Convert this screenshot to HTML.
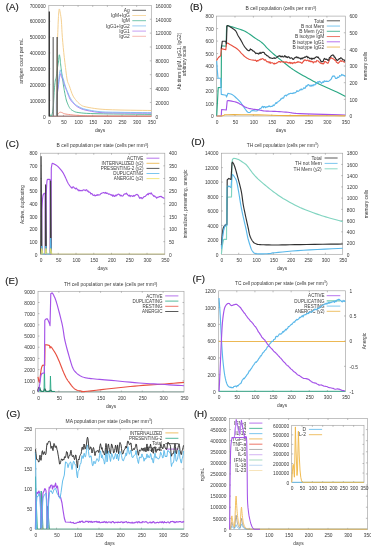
<!DOCTYPE html><html><head><meta charset="utf-8"><style>
html,body{margin:0;padding:0;background:#fff;width:371px;height:550px;overflow:hidden}
svg{display:block;will-change:transform}
text{font-family:"Liberation Sans",sans-serif}
</style></head><body>
<svg width="371" height="550" viewBox="0 0 371 550">
<rect width="371" height="550" fill="#fff"/>
<rect x="48.80" y="5.40" width="102.50" height="110.90" fill="none" stroke="#a0a0a0" stroke-width="0.65"/>
<text x="45.80" y="118.55" font-size="4.85" text-anchor="end" fill="#383838">0</text>
<line x1="48.80" y1="100.46" x2="50.30" y2="100.46" stroke="#888" stroke-width="0.55"/>
<text x="45.80" y="102.71" font-size="4.85" text-anchor="end" fill="#383838">100000</text>
<line x1="48.80" y1="84.61" x2="50.30" y2="84.61" stroke="#888" stroke-width="0.55"/>
<text x="45.80" y="86.86" font-size="4.85" text-anchor="end" fill="#383838">200000</text>
<line x1="48.80" y1="68.77" x2="50.30" y2="68.77" stroke="#888" stroke-width="0.55"/>
<text x="45.80" y="71.02" font-size="4.85" text-anchor="end" fill="#383838">300000</text>
<line x1="48.80" y1="52.93" x2="50.30" y2="52.93" stroke="#888" stroke-width="0.55"/>
<text x="45.80" y="55.18" font-size="4.85" text-anchor="end" fill="#383838">400000</text>
<line x1="48.80" y1="37.09" x2="50.30" y2="37.09" stroke="#888" stroke-width="0.55"/>
<text x="45.80" y="39.34" font-size="4.85" text-anchor="end" fill="#383838">500000</text>
<line x1="48.80" y1="21.24" x2="50.30" y2="21.24" stroke="#888" stroke-width="0.55"/>
<text x="45.80" y="23.49" font-size="4.85" text-anchor="end" fill="#383838">600000</text>
<text x="45.80" y="7.65" font-size="4.85" text-anchor="end" fill="#383838">700000</text>
<text x="155.40" y="118.55" font-size="4.85" text-anchor="start" fill="#383838">0</text>
<line x1="151.30" y1="102.44" x2="149.80" y2="102.44" stroke="#888" stroke-width="0.55"/>
<text x="155.40" y="104.69" font-size="4.85" text-anchor="start" fill="#383838">20000</text>
<line x1="151.30" y1="88.57" x2="149.80" y2="88.57" stroke="#888" stroke-width="0.55"/>
<text x="155.40" y="90.82" font-size="4.85" text-anchor="start" fill="#383838">40000</text>
<line x1="151.30" y1="74.71" x2="149.80" y2="74.71" stroke="#888" stroke-width="0.55"/>
<text x="155.40" y="76.96" font-size="4.85" text-anchor="start" fill="#383838">60000</text>
<line x1="151.30" y1="60.85" x2="149.80" y2="60.85" stroke="#888" stroke-width="0.55"/>
<text x="155.40" y="63.10" font-size="4.85" text-anchor="start" fill="#383838">80000</text>
<line x1="151.30" y1="46.99" x2="149.80" y2="46.99" stroke="#888" stroke-width="0.55"/>
<text x="155.40" y="49.24" font-size="4.85" text-anchor="start" fill="#383838">100000</text>
<line x1="151.30" y1="33.13" x2="149.80" y2="33.13" stroke="#888" stroke-width="0.55"/>
<text x="155.40" y="35.38" font-size="4.85" text-anchor="start" fill="#383838">120000</text>
<line x1="151.30" y1="19.26" x2="149.80" y2="19.26" stroke="#888" stroke-width="0.55"/>
<text x="155.40" y="21.51" font-size="4.85" text-anchor="start" fill="#383838">140000</text>
<text x="155.40" y="7.65" font-size="4.85" text-anchor="start" fill="#383838">160000</text>
<text x="49.30" y="124.10" font-size="4.85" text-anchor="middle" fill="#383838">0</text>
<line x1="63.44" y1="116.30" x2="63.44" y2="114.80" stroke="#888" stroke-width="0.55"/>
<line x1="63.44" y1="5.40" x2="63.44" y2="6.90" stroke="#888" stroke-width="0.55"/>
<text x="63.94" y="124.10" font-size="4.85" text-anchor="middle" fill="#383838">50</text>
<line x1="78.09" y1="116.30" x2="78.09" y2="114.80" stroke="#888" stroke-width="0.55"/>
<line x1="78.09" y1="5.40" x2="78.09" y2="6.90" stroke="#888" stroke-width="0.55"/>
<text x="78.59" y="124.10" font-size="4.85" text-anchor="middle" fill="#383838">100</text>
<line x1="92.73" y1="116.30" x2="92.73" y2="114.80" stroke="#888" stroke-width="0.55"/>
<line x1="92.73" y1="5.40" x2="92.73" y2="6.90" stroke="#888" stroke-width="0.55"/>
<text x="93.23" y="124.10" font-size="4.85" text-anchor="middle" fill="#383838">150</text>
<line x1="107.37" y1="116.30" x2="107.37" y2="114.80" stroke="#888" stroke-width="0.55"/>
<line x1="107.37" y1="5.40" x2="107.37" y2="6.90" stroke="#888" stroke-width="0.55"/>
<text x="107.87" y="124.10" font-size="4.85" text-anchor="middle" fill="#383838">200</text>
<line x1="122.01" y1="116.30" x2="122.01" y2="114.80" stroke="#888" stroke-width="0.55"/>
<line x1="122.01" y1="5.40" x2="122.01" y2="6.90" stroke="#888" stroke-width="0.55"/>
<text x="122.51" y="124.10" font-size="4.85" text-anchor="middle" fill="#383838">250</text>
<line x1="136.66" y1="116.30" x2="136.66" y2="114.80" stroke="#888" stroke-width="0.55"/>
<line x1="136.66" y1="5.40" x2="136.66" y2="6.90" stroke="#888" stroke-width="0.55"/>
<text x="137.16" y="124.10" font-size="4.85" text-anchor="middle" fill="#383838">300</text>
<text x="151.80" y="124.10" font-size="4.85" text-anchor="middle" fill="#383838">350</text>
<text x="100.05" y="131.85" font-size="4.85" text-anchor="middle" fill="#383838">days</text>
<rect x="216.60" y="16.10" width="128.70" height="99.90" fill="none" stroke="#a0a0a0" stroke-width="0.65"/>
<text x="213.60" y="118.25" font-size="4.85" text-anchor="end" fill="#383838">0</text>
<line x1="216.60" y1="103.51" x2="218.10" y2="103.51" stroke="#888" stroke-width="0.55"/>
<text x="213.60" y="105.76" font-size="4.85" text-anchor="end" fill="#383838">100</text>
<line x1="216.60" y1="91.03" x2="218.10" y2="91.03" stroke="#888" stroke-width="0.55"/>
<text x="213.60" y="93.28" font-size="4.85" text-anchor="end" fill="#383838">200</text>
<line x1="216.60" y1="78.54" x2="218.10" y2="78.54" stroke="#888" stroke-width="0.55"/>
<text x="213.60" y="80.79" font-size="4.85" text-anchor="end" fill="#383838">300</text>
<line x1="216.60" y1="66.05" x2="218.10" y2="66.05" stroke="#888" stroke-width="0.55"/>
<text x="213.60" y="68.30" font-size="4.85" text-anchor="end" fill="#383838">400</text>
<line x1="216.60" y1="53.56" x2="218.10" y2="53.56" stroke="#888" stroke-width="0.55"/>
<text x="213.60" y="55.81" font-size="4.85" text-anchor="end" fill="#383838">500</text>
<line x1="216.60" y1="41.08" x2="218.10" y2="41.08" stroke="#888" stroke-width="0.55"/>
<text x="213.60" y="43.33" font-size="4.85" text-anchor="end" fill="#383838">600</text>
<line x1="216.60" y1="28.59" x2="218.10" y2="28.59" stroke="#888" stroke-width="0.55"/>
<text x="213.60" y="30.84" font-size="4.85" text-anchor="end" fill="#383838">700</text>
<text x="213.60" y="18.35" font-size="4.85" text-anchor="end" fill="#383838">800</text>
<text x="349.40" y="118.25" font-size="4.85" text-anchor="start" fill="#383838">0</text>
<line x1="345.30" y1="99.35" x2="343.80" y2="99.35" stroke="#888" stroke-width="0.55"/>
<text x="349.40" y="101.60" font-size="4.85" text-anchor="start" fill="#383838">100</text>
<line x1="345.30" y1="82.70" x2="343.80" y2="82.70" stroke="#888" stroke-width="0.55"/>
<text x="349.40" y="84.95" font-size="4.85" text-anchor="start" fill="#383838">200</text>
<line x1="345.30" y1="66.05" x2="343.80" y2="66.05" stroke="#888" stroke-width="0.55"/>
<text x="349.40" y="68.30" font-size="4.85" text-anchor="start" fill="#383838">300</text>
<line x1="345.30" y1="49.40" x2="343.80" y2="49.40" stroke="#888" stroke-width="0.55"/>
<text x="349.40" y="51.65" font-size="4.85" text-anchor="start" fill="#383838">400</text>
<line x1="345.30" y1="32.75" x2="343.80" y2="32.75" stroke="#888" stroke-width="0.55"/>
<text x="349.40" y="35.00" font-size="4.85" text-anchor="start" fill="#383838">500</text>
<text x="349.40" y="18.35" font-size="4.85" text-anchor="start" fill="#383838">600</text>
<text x="217.10" y="123.80" font-size="4.85" text-anchor="middle" fill="#383838">0</text>
<line x1="234.99" y1="116.00" x2="234.99" y2="114.50" stroke="#888" stroke-width="0.55"/>
<line x1="234.99" y1="16.10" x2="234.99" y2="17.60" stroke="#888" stroke-width="0.55"/>
<text x="235.49" y="123.80" font-size="4.85" text-anchor="middle" fill="#383838">50</text>
<line x1="253.37" y1="116.00" x2="253.37" y2="114.50" stroke="#888" stroke-width="0.55"/>
<line x1="253.37" y1="16.10" x2="253.37" y2="17.60" stroke="#888" stroke-width="0.55"/>
<text x="253.87" y="123.80" font-size="4.85" text-anchor="middle" fill="#383838">100</text>
<line x1="271.76" y1="116.00" x2="271.76" y2="114.50" stroke="#888" stroke-width="0.55"/>
<line x1="271.76" y1="16.10" x2="271.76" y2="17.60" stroke="#888" stroke-width="0.55"/>
<text x="272.26" y="123.80" font-size="4.85" text-anchor="middle" fill="#383838">150</text>
<line x1="290.14" y1="116.00" x2="290.14" y2="114.50" stroke="#888" stroke-width="0.55"/>
<line x1="290.14" y1="16.10" x2="290.14" y2="17.60" stroke="#888" stroke-width="0.55"/>
<text x="290.64" y="123.80" font-size="4.85" text-anchor="middle" fill="#383838">200</text>
<line x1="308.53" y1="116.00" x2="308.53" y2="114.50" stroke="#888" stroke-width="0.55"/>
<line x1="308.53" y1="16.10" x2="308.53" y2="17.60" stroke="#888" stroke-width="0.55"/>
<text x="309.03" y="123.80" font-size="4.85" text-anchor="middle" fill="#383838">250</text>
<line x1="326.91" y1="116.00" x2="326.91" y2="114.50" stroke="#888" stroke-width="0.55"/>
<line x1="326.91" y1="16.10" x2="326.91" y2="17.60" stroke="#888" stroke-width="0.55"/>
<text x="327.41" y="123.80" font-size="4.85" text-anchor="middle" fill="#383838">300</text>
<text x="345.80" y="123.80" font-size="4.85" text-anchor="middle" fill="#383838">350</text>
<text x="280.95" y="131.55" font-size="4.85" text-anchor="middle" fill="#383838">days</text>
<rect x="40.50" y="153.20" width="124.30" height="101.10" fill="none" stroke="#a0a0a0" stroke-width="0.65"/>
<text x="37.50" y="256.55" font-size="4.85" text-anchor="end" fill="#383838">0</text>
<line x1="40.50" y1="241.66" x2="42.00" y2="241.66" stroke="#888" stroke-width="0.55"/>
<text x="37.50" y="243.91" font-size="4.85" text-anchor="end" fill="#383838">100</text>
<line x1="40.50" y1="229.03" x2="42.00" y2="229.03" stroke="#888" stroke-width="0.55"/>
<text x="37.50" y="231.28" font-size="4.85" text-anchor="end" fill="#383838">200</text>
<line x1="40.50" y1="216.39" x2="42.00" y2="216.39" stroke="#888" stroke-width="0.55"/>
<text x="37.50" y="218.64" font-size="4.85" text-anchor="end" fill="#383838">300</text>
<line x1="40.50" y1="203.75" x2="42.00" y2="203.75" stroke="#888" stroke-width="0.55"/>
<text x="37.50" y="206.00" font-size="4.85" text-anchor="end" fill="#383838">400</text>
<line x1="40.50" y1="191.11" x2="42.00" y2="191.11" stroke="#888" stroke-width="0.55"/>
<text x="37.50" y="193.36" font-size="4.85" text-anchor="end" fill="#383838">500</text>
<line x1="40.50" y1="178.47" x2="42.00" y2="178.47" stroke="#888" stroke-width="0.55"/>
<text x="37.50" y="180.72" font-size="4.85" text-anchor="end" fill="#383838">600</text>
<line x1="40.50" y1="165.84" x2="42.00" y2="165.84" stroke="#888" stroke-width="0.55"/>
<text x="37.50" y="168.09" font-size="4.85" text-anchor="end" fill="#383838">700</text>
<text x="37.50" y="155.45" font-size="4.85" text-anchor="end" fill="#383838">800</text>
<text x="168.90" y="256.55" font-size="4.85" text-anchor="start" fill="#383838">0</text>
<line x1="164.80" y1="241.66" x2="163.30" y2="241.66" stroke="#888" stroke-width="0.55"/>
<text x="168.90" y="243.91" font-size="4.85" text-anchor="start" fill="#383838">50</text>
<line x1="164.80" y1="229.03" x2="163.30" y2="229.03" stroke="#888" stroke-width="0.55"/>
<text x="168.90" y="231.28" font-size="4.85" text-anchor="start" fill="#383838">100</text>
<line x1="164.80" y1="216.39" x2="163.30" y2="216.39" stroke="#888" stroke-width="0.55"/>
<text x="168.90" y="218.64" font-size="4.85" text-anchor="start" fill="#383838">150</text>
<line x1="164.80" y1="203.75" x2="163.30" y2="203.75" stroke="#888" stroke-width="0.55"/>
<text x="168.90" y="206.00" font-size="4.85" text-anchor="start" fill="#383838">200</text>
<line x1="164.80" y1="191.11" x2="163.30" y2="191.11" stroke="#888" stroke-width="0.55"/>
<text x="168.90" y="193.36" font-size="4.85" text-anchor="start" fill="#383838">250</text>
<line x1="164.80" y1="178.47" x2="163.30" y2="178.47" stroke="#888" stroke-width="0.55"/>
<text x="168.90" y="180.72" font-size="4.85" text-anchor="start" fill="#383838">300</text>
<line x1="164.80" y1="165.84" x2="163.30" y2="165.84" stroke="#888" stroke-width="0.55"/>
<text x="168.90" y="168.09" font-size="4.85" text-anchor="start" fill="#383838">350</text>
<text x="168.90" y="155.45" font-size="4.85" text-anchor="start" fill="#383838">400</text>
<text x="41.00" y="262.10" font-size="4.85" text-anchor="middle" fill="#383838">0</text>
<line x1="58.26" y1="254.30" x2="58.26" y2="252.80" stroke="#888" stroke-width="0.55"/>
<line x1="58.26" y1="153.20" x2="58.26" y2="154.70" stroke="#888" stroke-width="0.55"/>
<text x="58.76" y="262.10" font-size="4.85" text-anchor="middle" fill="#383838">50</text>
<line x1="76.01" y1="254.30" x2="76.01" y2="252.80" stroke="#888" stroke-width="0.55"/>
<line x1="76.01" y1="153.20" x2="76.01" y2="154.70" stroke="#888" stroke-width="0.55"/>
<text x="76.51" y="262.10" font-size="4.85" text-anchor="middle" fill="#383838">100</text>
<line x1="93.77" y1="254.30" x2="93.77" y2="252.80" stroke="#888" stroke-width="0.55"/>
<line x1="93.77" y1="153.20" x2="93.77" y2="154.70" stroke="#888" stroke-width="0.55"/>
<text x="94.27" y="262.10" font-size="4.85" text-anchor="middle" fill="#383838">150</text>
<line x1="111.53" y1="254.30" x2="111.53" y2="252.80" stroke="#888" stroke-width="0.55"/>
<line x1="111.53" y1="153.20" x2="111.53" y2="154.70" stroke="#888" stroke-width="0.55"/>
<text x="112.03" y="262.10" font-size="4.85" text-anchor="middle" fill="#383838">200</text>
<line x1="129.29" y1="254.30" x2="129.29" y2="252.80" stroke="#888" stroke-width="0.55"/>
<line x1="129.29" y1="153.20" x2="129.29" y2="154.70" stroke="#888" stroke-width="0.55"/>
<text x="129.79" y="262.10" font-size="4.85" text-anchor="middle" fill="#383838">250</text>
<line x1="147.04" y1="254.30" x2="147.04" y2="252.80" stroke="#888" stroke-width="0.55"/>
<line x1="147.04" y1="153.20" x2="147.04" y2="154.70" stroke="#888" stroke-width="0.55"/>
<text x="147.54" y="262.10" font-size="4.85" text-anchor="middle" fill="#383838">300</text>
<text x="165.30" y="262.10" font-size="4.85" text-anchor="middle" fill="#383838">350</text>
<text x="102.65" y="269.85" font-size="4.85" text-anchor="middle" fill="#383838">days</text>
<rect x="221.40" y="153.20" width="121.30" height="101.10" fill="none" stroke="#a0a0a0" stroke-width="0.65"/>
<text x="218.40" y="256.55" font-size="4.85" text-anchor="end" fill="#383838">0</text>
<line x1="221.40" y1="239.86" x2="222.90" y2="239.86" stroke="#888" stroke-width="0.55"/>
<text x="218.40" y="242.11" font-size="4.85" text-anchor="end" fill="#383838">2000</text>
<line x1="221.40" y1="225.41" x2="222.90" y2="225.41" stroke="#888" stroke-width="0.55"/>
<text x="218.40" y="227.66" font-size="4.85" text-anchor="end" fill="#383838">4000</text>
<line x1="221.40" y1="210.97" x2="222.90" y2="210.97" stroke="#888" stroke-width="0.55"/>
<text x="218.40" y="213.22" font-size="4.85" text-anchor="end" fill="#383838">6000</text>
<line x1="221.40" y1="196.53" x2="222.90" y2="196.53" stroke="#888" stroke-width="0.55"/>
<text x="218.40" y="198.78" font-size="4.85" text-anchor="end" fill="#383838">8000</text>
<line x1="221.40" y1="182.09" x2="222.90" y2="182.09" stroke="#888" stroke-width="0.55"/>
<text x="218.40" y="184.34" font-size="4.85" text-anchor="end" fill="#383838">10000</text>
<line x1="221.40" y1="167.64" x2="222.90" y2="167.64" stroke="#888" stroke-width="0.55"/>
<text x="218.40" y="169.89" font-size="4.85" text-anchor="end" fill="#383838">12000</text>
<text x="218.40" y="155.45" font-size="4.85" text-anchor="end" fill="#383838">14000</text>
<text x="346.80" y="256.55" font-size="4.85" text-anchor="start" fill="#383838">0</text>
<line x1="342.70" y1="243.07" x2="341.20" y2="243.07" stroke="#888" stroke-width="0.55"/>
<text x="346.80" y="245.32" font-size="4.85" text-anchor="start" fill="#383838">200</text>
<line x1="342.70" y1="231.83" x2="341.20" y2="231.83" stroke="#888" stroke-width="0.55"/>
<text x="346.80" y="234.08" font-size="4.85" text-anchor="start" fill="#383838">400</text>
<line x1="342.70" y1="220.60" x2="341.20" y2="220.60" stroke="#888" stroke-width="0.55"/>
<text x="346.80" y="222.85" font-size="4.85" text-anchor="start" fill="#383838">600</text>
<line x1="342.70" y1="209.37" x2="341.20" y2="209.37" stroke="#888" stroke-width="0.55"/>
<text x="346.80" y="211.62" font-size="4.85" text-anchor="start" fill="#383838">800</text>
<line x1="342.70" y1="198.13" x2="341.20" y2="198.13" stroke="#888" stroke-width="0.55"/>
<text x="346.80" y="200.38" font-size="4.85" text-anchor="start" fill="#383838">1000</text>
<line x1="342.70" y1="186.90" x2="341.20" y2="186.90" stroke="#888" stroke-width="0.55"/>
<text x="346.80" y="189.15" font-size="4.85" text-anchor="start" fill="#383838">1200</text>
<line x1="342.70" y1="175.67" x2="341.20" y2="175.67" stroke="#888" stroke-width="0.55"/>
<text x="346.80" y="177.92" font-size="4.85" text-anchor="start" fill="#383838">1400</text>
<line x1="342.70" y1="164.43" x2="341.20" y2="164.43" stroke="#888" stroke-width="0.55"/>
<text x="346.80" y="166.68" font-size="4.85" text-anchor="start" fill="#383838">1600</text>
<text x="346.80" y="155.45" font-size="4.85" text-anchor="start" fill="#383838">1800</text>
<text x="221.90" y="262.10" font-size="4.85" text-anchor="middle" fill="#383838">0</text>
<line x1="238.73" y1="254.30" x2="238.73" y2="252.80" stroke="#888" stroke-width="0.55"/>
<line x1="238.73" y1="153.20" x2="238.73" y2="154.70" stroke="#888" stroke-width="0.55"/>
<text x="239.23" y="262.10" font-size="4.85" text-anchor="middle" fill="#383838">50</text>
<line x1="256.06" y1="254.30" x2="256.06" y2="252.80" stroke="#888" stroke-width="0.55"/>
<line x1="256.06" y1="153.20" x2="256.06" y2="154.70" stroke="#888" stroke-width="0.55"/>
<text x="256.56" y="262.10" font-size="4.85" text-anchor="middle" fill="#383838">100</text>
<line x1="273.39" y1="254.30" x2="273.39" y2="252.80" stroke="#888" stroke-width="0.55"/>
<line x1="273.39" y1="153.20" x2="273.39" y2="154.70" stroke="#888" stroke-width="0.55"/>
<text x="273.89" y="262.10" font-size="4.85" text-anchor="middle" fill="#383838">150</text>
<line x1="290.71" y1="254.30" x2="290.71" y2="252.80" stroke="#888" stroke-width="0.55"/>
<line x1="290.71" y1="153.20" x2="290.71" y2="154.70" stroke="#888" stroke-width="0.55"/>
<text x="291.21" y="262.10" font-size="4.85" text-anchor="middle" fill="#383838">200</text>
<line x1="308.04" y1="254.30" x2="308.04" y2="252.80" stroke="#888" stroke-width="0.55"/>
<line x1="308.04" y1="153.20" x2="308.04" y2="154.70" stroke="#888" stroke-width="0.55"/>
<text x="308.54" y="262.10" font-size="4.85" text-anchor="middle" fill="#383838">250</text>
<line x1="325.37" y1="254.30" x2="325.37" y2="252.80" stroke="#888" stroke-width="0.55"/>
<line x1="325.37" y1="153.20" x2="325.37" y2="154.70" stroke="#888" stroke-width="0.55"/>
<text x="325.87" y="262.10" font-size="4.85" text-anchor="middle" fill="#383838">300</text>
<text x="343.20" y="262.10" font-size="4.85" text-anchor="middle" fill="#383838">350</text>
<text x="282.05" y="269.85" font-size="4.85" text-anchor="middle" fill="#383838">days</text>
<rect x="38.00" y="291.30" width="146.00" height="100.70" fill="none" stroke="#a0a0a0" stroke-width="0.65"/>
<text x="35.00" y="394.25" font-size="4.85" text-anchor="end" fill="#383838">0</text>
<line x1="38.00" y1="380.81" x2="39.50" y2="380.81" stroke="#888" stroke-width="0.55"/>
<line x1="184.00" y1="380.81" x2="182.50" y2="380.81" stroke="#888" stroke-width="0.55"/>
<text x="35.00" y="383.06" font-size="4.85" text-anchor="end" fill="#383838">1000</text>
<line x1="38.00" y1="369.62" x2="39.50" y2="369.62" stroke="#888" stroke-width="0.55"/>
<line x1="184.00" y1="369.62" x2="182.50" y2="369.62" stroke="#888" stroke-width="0.55"/>
<text x="35.00" y="371.87" font-size="4.85" text-anchor="end" fill="#383838">2000</text>
<line x1="38.00" y1="358.43" x2="39.50" y2="358.43" stroke="#888" stroke-width="0.55"/>
<line x1="184.00" y1="358.43" x2="182.50" y2="358.43" stroke="#888" stroke-width="0.55"/>
<text x="35.00" y="360.68" font-size="4.85" text-anchor="end" fill="#383838">3000</text>
<line x1="38.00" y1="347.24" x2="39.50" y2="347.24" stroke="#888" stroke-width="0.55"/>
<line x1="184.00" y1="347.24" x2="182.50" y2="347.24" stroke="#888" stroke-width="0.55"/>
<text x="35.00" y="349.49" font-size="4.85" text-anchor="end" fill="#383838">4000</text>
<line x1="38.00" y1="336.06" x2="39.50" y2="336.06" stroke="#888" stroke-width="0.55"/>
<line x1="184.00" y1="336.06" x2="182.50" y2="336.06" stroke="#888" stroke-width="0.55"/>
<text x="35.00" y="338.31" font-size="4.85" text-anchor="end" fill="#383838">5000</text>
<line x1="38.00" y1="324.87" x2="39.50" y2="324.87" stroke="#888" stroke-width="0.55"/>
<line x1="184.00" y1="324.87" x2="182.50" y2="324.87" stroke="#888" stroke-width="0.55"/>
<text x="35.00" y="327.12" font-size="4.85" text-anchor="end" fill="#383838">6000</text>
<line x1="38.00" y1="313.68" x2="39.50" y2="313.68" stroke="#888" stroke-width="0.55"/>
<line x1="184.00" y1="313.68" x2="182.50" y2="313.68" stroke="#888" stroke-width="0.55"/>
<text x="35.00" y="315.93" font-size="4.85" text-anchor="end" fill="#383838">7000</text>
<line x1="38.00" y1="302.49" x2="39.50" y2="302.49" stroke="#888" stroke-width="0.55"/>
<line x1="184.00" y1="302.49" x2="182.50" y2="302.49" stroke="#888" stroke-width="0.55"/>
<text x="35.00" y="304.74" font-size="4.85" text-anchor="end" fill="#383838">8000</text>
<text x="35.00" y="293.55" font-size="4.85" text-anchor="end" fill="#383838">9000</text>
<text x="38.50" y="399.80" font-size="4.85" text-anchor="middle" fill="#383838">0</text>
<line x1="58.86" y1="392.00" x2="58.86" y2="390.50" stroke="#888" stroke-width="0.55"/>
<line x1="58.86" y1="291.30" x2="58.86" y2="292.80" stroke="#888" stroke-width="0.55"/>
<text x="59.36" y="399.80" font-size="4.85" text-anchor="middle" fill="#383838">50</text>
<line x1="79.71" y1="392.00" x2="79.71" y2="390.50" stroke="#888" stroke-width="0.55"/>
<line x1="79.71" y1="291.30" x2="79.71" y2="292.80" stroke="#888" stroke-width="0.55"/>
<text x="80.21" y="399.80" font-size="4.85" text-anchor="middle" fill="#383838">100</text>
<line x1="100.57" y1="392.00" x2="100.57" y2="390.50" stroke="#888" stroke-width="0.55"/>
<line x1="100.57" y1="291.30" x2="100.57" y2="292.80" stroke="#888" stroke-width="0.55"/>
<text x="101.07" y="399.80" font-size="4.85" text-anchor="middle" fill="#383838">150</text>
<line x1="121.43" y1="392.00" x2="121.43" y2="390.50" stroke="#888" stroke-width="0.55"/>
<line x1="121.43" y1="291.30" x2="121.43" y2="292.80" stroke="#888" stroke-width="0.55"/>
<text x="121.93" y="399.80" font-size="4.85" text-anchor="middle" fill="#383838">200</text>
<line x1="142.29" y1="392.00" x2="142.29" y2="390.50" stroke="#888" stroke-width="0.55"/>
<line x1="142.29" y1="291.30" x2="142.29" y2="292.80" stroke="#888" stroke-width="0.55"/>
<text x="142.79" y="399.80" font-size="4.85" text-anchor="middle" fill="#383838">250</text>
<line x1="163.14" y1="392.00" x2="163.14" y2="390.50" stroke="#888" stroke-width="0.55"/>
<line x1="163.14" y1="291.30" x2="163.14" y2="292.80" stroke="#888" stroke-width="0.55"/>
<text x="163.64" y="399.80" font-size="4.85" text-anchor="middle" fill="#383838">300</text>
<text x="184.50" y="399.80" font-size="4.85" text-anchor="middle" fill="#383838">350</text>
<text x="111.00" y="407.55" font-size="4.85" text-anchor="middle" fill="#383838">days</text>
<rect x="218.70" y="290.80" width="126.80" height="100.70" fill="none" stroke="#a0a0a0" stroke-width="0.65"/>
<text x="215.70" y="393.75" font-size="4.85" text-anchor="end" fill="#383838">0</text>
<line x1="218.70" y1="374.72" x2="220.20" y2="374.72" stroke="#888" stroke-width="0.55"/>
<text x="215.70" y="376.97" font-size="4.85" text-anchor="end" fill="#383838">200</text>
<line x1="218.70" y1="357.93" x2="220.20" y2="357.93" stroke="#888" stroke-width="0.55"/>
<text x="215.70" y="360.18" font-size="4.85" text-anchor="end" fill="#383838">400</text>
<line x1="218.70" y1="341.15" x2="220.20" y2="341.15" stroke="#888" stroke-width="0.55"/>
<text x="215.70" y="343.40" font-size="4.85" text-anchor="end" fill="#383838">600</text>
<line x1="218.70" y1="324.37" x2="220.20" y2="324.37" stroke="#888" stroke-width="0.55"/>
<text x="215.70" y="326.62" font-size="4.85" text-anchor="end" fill="#383838">800</text>
<line x1="218.70" y1="307.58" x2="220.20" y2="307.58" stroke="#888" stroke-width="0.55"/>
<text x="215.70" y="309.83" font-size="4.85" text-anchor="end" fill="#383838">1000</text>
<text x="215.70" y="293.05" font-size="4.85" text-anchor="end" fill="#383838">1200</text>
<text x="349.60" y="393.75" font-size="4.85" text-anchor="start" fill="#383838">-1</text>
<line x1="345.50" y1="366.32" x2="344.00" y2="366.32" stroke="#888" stroke-width="0.55"/>
<text x="349.60" y="368.57" font-size="4.85" text-anchor="start" fill="#383838">-0.5</text>
<line x1="345.50" y1="341.15" x2="344.00" y2="341.15" stroke="#888" stroke-width="0.55"/>
<text x="349.60" y="343.40" font-size="4.85" text-anchor="start" fill="#383838">0</text>
<line x1="345.50" y1="315.98" x2="344.00" y2="315.98" stroke="#888" stroke-width="0.55"/>
<text x="349.60" y="318.23" font-size="4.85" text-anchor="start" fill="#383838">0.5</text>
<text x="349.60" y="293.05" font-size="4.85" text-anchor="start" fill="#383838">1</text>
<text x="219.20" y="399.30" font-size="4.85" text-anchor="middle" fill="#383838">0</text>
<line x1="236.81" y1="391.50" x2="236.81" y2="390.00" stroke="#888" stroke-width="0.55"/>
<line x1="236.81" y1="290.80" x2="236.81" y2="292.30" stroke="#888" stroke-width="0.55"/>
<text x="237.31" y="399.30" font-size="4.85" text-anchor="middle" fill="#383838">50</text>
<line x1="254.93" y1="391.50" x2="254.93" y2="390.00" stroke="#888" stroke-width="0.55"/>
<line x1="254.93" y1="290.80" x2="254.93" y2="292.30" stroke="#888" stroke-width="0.55"/>
<text x="255.43" y="399.30" font-size="4.85" text-anchor="middle" fill="#383838">100</text>
<line x1="273.04" y1="391.50" x2="273.04" y2="390.00" stroke="#888" stroke-width="0.55"/>
<line x1="273.04" y1="290.80" x2="273.04" y2="292.30" stroke="#888" stroke-width="0.55"/>
<text x="273.54" y="399.30" font-size="4.85" text-anchor="middle" fill="#383838">150</text>
<line x1="291.16" y1="391.50" x2="291.16" y2="390.00" stroke="#888" stroke-width="0.55"/>
<line x1="291.16" y1="290.80" x2="291.16" y2="292.30" stroke="#888" stroke-width="0.55"/>
<text x="291.66" y="399.30" font-size="4.85" text-anchor="middle" fill="#383838">200</text>
<line x1="309.27" y1="391.50" x2="309.27" y2="390.00" stroke="#888" stroke-width="0.55"/>
<line x1="309.27" y1="290.80" x2="309.27" y2="292.30" stroke="#888" stroke-width="0.55"/>
<text x="309.77" y="399.30" font-size="4.85" text-anchor="middle" fill="#383838">250</text>
<line x1="327.39" y1="391.50" x2="327.39" y2="390.00" stroke="#888" stroke-width="0.55"/>
<line x1="327.39" y1="290.80" x2="327.39" y2="292.30" stroke="#888" stroke-width="0.55"/>
<text x="327.89" y="399.30" font-size="4.85" text-anchor="middle" fill="#383838">300</text>
<text x="346.00" y="399.30" font-size="4.85" text-anchor="middle" fill="#383838">350</text>
<text x="282.10" y="407.05" font-size="4.85" text-anchor="middle" fill="#383838">days</text>
<rect x="35.30" y="428.70" width="148.60" height="100.50" fill="none" stroke="#a0a0a0" stroke-width="0.65"/>
<text x="32.30" y="531.45" font-size="4.85" text-anchor="end" fill="#383838">0</text>
<line x1="35.30" y1="509.10" x2="36.80" y2="509.10" stroke="#888" stroke-width="0.55"/>
<line x1="183.90" y1="509.10" x2="182.40" y2="509.10" stroke="#888" stroke-width="0.55"/>
<text x="32.30" y="511.35" font-size="4.85" text-anchor="end" fill="#383838">50</text>
<line x1="35.30" y1="489.00" x2="36.80" y2="489.00" stroke="#888" stroke-width="0.55"/>
<line x1="183.90" y1="489.00" x2="182.40" y2="489.00" stroke="#888" stroke-width="0.55"/>
<text x="32.30" y="491.25" font-size="4.85" text-anchor="end" fill="#383838">100</text>
<line x1="35.30" y1="468.90" x2="36.80" y2="468.90" stroke="#888" stroke-width="0.55"/>
<line x1="183.90" y1="468.90" x2="182.40" y2="468.90" stroke="#888" stroke-width="0.55"/>
<text x="32.30" y="471.15" font-size="4.85" text-anchor="end" fill="#383838">150</text>
<line x1="35.30" y1="448.80" x2="36.80" y2="448.80" stroke="#888" stroke-width="0.55"/>
<line x1="183.90" y1="448.80" x2="182.40" y2="448.80" stroke="#888" stroke-width="0.55"/>
<text x="32.30" y="451.05" font-size="4.85" text-anchor="end" fill="#383838">200</text>
<text x="32.30" y="430.95" font-size="4.85" text-anchor="end" fill="#383838">250</text>
<text x="35.80" y="537.00" font-size="4.85" text-anchor="middle" fill="#383838">0</text>
<line x1="56.53" y1="529.20" x2="56.53" y2="527.70" stroke="#888" stroke-width="0.55"/>
<line x1="56.53" y1="428.70" x2="56.53" y2="430.20" stroke="#888" stroke-width="0.55"/>
<text x="57.03" y="537.00" font-size="4.85" text-anchor="middle" fill="#383838">50</text>
<line x1="77.76" y1="529.20" x2="77.76" y2="527.70" stroke="#888" stroke-width="0.55"/>
<line x1="77.76" y1="428.70" x2="77.76" y2="430.20" stroke="#888" stroke-width="0.55"/>
<text x="78.26" y="537.00" font-size="4.85" text-anchor="middle" fill="#383838">100</text>
<line x1="98.99" y1="529.20" x2="98.99" y2="527.70" stroke="#888" stroke-width="0.55"/>
<line x1="98.99" y1="428.70" x2="98.99" y2="430.20" stroke="#888" stroke-width="0.55"/>
<text x="99.49" y="537.00" font-size="4.85" text-anchor="middle" fill="#383838">150</text>
<line x1="120.21" y1="529.20" x2="120.21" y2="527.70" stroke="#888" stroke-width="0.55"/>
<line x1="120.21" y1="428.70" x2="120.21" y2="430.20" stroke="#888" stroke-width="0.55"/>
<text x="120.71" y="537.00" font-size="4.85" text-anchor="middle" fill="#383838">200</text>
<line x1="141.44" y1="529.20" x2="141.44" y2="527.70" stroke="#888" stroke-width="0.55"/>
<line x1="141.44" y1="428.70" x2="141.44" y2="430.20" stroke="#888" stroke-width="0.55"/>
<text x="141.94" y="537.00" font-size="4.85" text-anchor="middle" fill="#383838">250</text>
<line x1="162.67" y1="529.20" x2="162.67" y2="527.70" stroke="#888" stroke-width="0.55"/>
<line x1="162.67" y1="428.70" x2="162.67" y2="430.20" stroke="#888" stroke-width="0.55"/>
<text x="163.17" y="537.00" font-size="4.85" text-anchor="middle" fill="#383838">300</text>
<text x="184.40" y="537.00" font-size="4.85" text-anchor="middle" fill="#383838">350</text>
<text x="109.60" y="544.75" font-size="4.85" text-anchor="middle" fill="#383838">days</text>
<rect x="229.50" y="418.50" width="137.90" height="110.90" fill="none" stroke="#a0a0a0" stroke-width="0.65"/>
<text x="226.50" y="531.65" font-size="4.85" text-anchor="end" fill="#383838">0</text>
<line x1="229.50" y1="518.31" x2="231.00" y2="518.31" stroke="#888" stroke-width="0.55"/>
<line x1="367.40" y1="518.31" x2="365.90" y2="518.31" stroke="#888" stroke-width="0.55"/>
<text x="226.50" y="520.56" font-size="4.85" text-anchor="end" fill="#383838">50000</text>
<line x1="229.50" y1="507.22" x2="231.00" y2="507.22" stroke="#888" stroke-width="0.55"/>
<line x1="367.40" y1="507.22" x2="365.90" y2="507.22" stroke="#888" stroke-width="0.55"/>
<text x="226.50" y="509.47" font-size="4.85" text-anchor="end" fill="#383838">100000</text>
<line x1="229.50" y1="496.13" x2="231.00" y2="496.13" stroke="#888" stroke-width="0.55"/>
<line x1="367.40" y1="496.13" x2="365.90" y2="496.13" stroke="#888" stroke-width="0.55"/>
<text x="226.50" y="498.38" font-size="4.85" text-anchor="end" fill="#383838">150000</text>
<line x1="229.50" y1="485.04" x2="231.00" y2="485.04" stroke="#888" stroke-width="0.55"/>
<line x1="367.40" y1="485.04" x2="365.90" y2="485.04" stroke="#888" stroke-width="0.55"/>
<text x="226.50" y="487.29" font-size="4.85" text-anchor="end" fill="#383838">200000</text>
<line x1="229.50" y1="473.95" x2="231.00" y2="473.95" stroke="#888" stroke-width="0.55"/>
<line x1="367.40" y1="473.95" x2="365.90" y2="473.95" stroke="#888" stroke-width="0.55"/>
<text x="226.50" y="476.20" font-size="4.85" text-anchor="end" fill="#383838">250000</text>
<line x1="229.50" y1="462.86" x2="231.00" y2="462.86" stroke="#888" stroke-width="0.55"/>
<line x1="367.40" y1="462.86" x2="365.90" y2="462.86" stroke="#888" stroke-width="0.55"/>
<text x="226.50" y="465.11" font-size="4.85" text-anchor="end" fill="#383838">300000</text>
<line x1="229.50" y1="451.77" x2="231.00" y2="451.77" stroke="#888" stroke-width="0.55"/>
<line x1="367.40" y1="451.77" x2="365.90" y2="451.77" stroke="#888" stroke-width="0.55"/>
<text x="226.50" y="454.02" font-size="4.85" text-anchor="end" fill="#383838">350000</text>
<line x1="229.50" y1="440.68" x2="231.00" y2="440.68" stroke="#888" stroke-width="0.55"/>
<line x1="367.40" y1="440.68" x2="365.90" y2="440.68" stroke="#888" stroke-width="0.55"/>
<text x="226.50" y="442.93" font-size="4.85" text-anchor="end" fill="#383838">400000</text>
<line x1="229.50" y1="429.59" x2="231.00" y2="429.59" stroke="#888" stroke-width="0.55"/>
<line x1="367.40" y1="429.59" x2="365.90" y2="429.59" stroke="#888" stroke-width="0.55"/>
<text x="226.50" y="431.84" font-size="4.85" text-anchor="end" fill="#383838">450000</text>
<text x="226.50" y="420.75" font-size="4.85" text-anchor="end" fill="#383838">500000</text>
<text x="230.00" y="537.20" font-size="4.85" text-anchor="middle" fill="#383838">0</text>
<line x1="249.20" y1="529.40" x2="249.20" y2="527.90" stroke="#888" stroke-width="0.55"/>
<line x1="249.20" y1="418.50" x2="249.20" y2="420.00" stroke="#888" stroke-width="0.55"/>
<text x="249.70" y="537.20" font-size="4.85" text-anchor="middle" fill="#383838">50</text>
<line x1="268.90" y1="529.40" x2="268.90" y2="527.90" stroke="#888" stroke-width="0.55"/>
<line x1="268.90" y1="418.50" x2="268.90" y2="420.00" stroke="#888" stroke-width="0.55"/>
<text x="269.40" y="537.20" font-size="4.85" text-anchor="middle" fill="#383838">100</text>
<line x1="288.60" y1="529.40" x2="288.60" y2="527.90" stroke="#888" stroke-width="0.55"/>
<line x1="288.60" y1="418.50" x2="288.60" y2="420.00" stroke="#888" stroke-width="0.55"/>
<text x="289.10" y="537.20" font-size="4.85" text-anchor="middle" fill="#383838">150</text>
<line x1="308.30" y1="529.40" x2="308.30" y2="527.90" stroke="#888" stroke-width="0.55"/>
<line x1="308.30" y1="418.50" x2="308.30" y2="420.00" stroke="#888" stroke-width="0.55"/>
<text x="308.80" y="537.20" font-size="4.85" text-anchor="middle" fill="#383838">200</text>
<line x1="328.00" y1="529.40" x2="328.00" y2="527.90" stroke="#888" stroke-width="0.55"/>
<line x1="328.00" y1="418.50" x2="328.00" y2="420.00" stroke="#888" stroke-width="0.55"/>
<text x="328.50" y="537.20" font-size="4.85" text-anchor="middle" fill="#383838">250</text>
<line x1="347.70" y1="529.40" x2="347.70" y2="527.90" stroke="#888" stroke-width="0.55"/>
<line x1="347.70" y1="418.50" x2="347.70" y2="420.00" stroke="#888" stroke-width="0.55"/>
<text x="348.20" y="537.20" font-size="4.85" text-anchor="middle" fill="#383838">300</text>
<text x="367.90" y="537.20" font-size="4.85" text-anchor="middle" fill="#383838">350</text>
<text x="298.45" y="544.95" font-size="4.85" text-anchor="middle" fill="#383838">days</text>
<rect x="291.70" y="425.30" width="72.30" height="57.30" fill="none" stroke="#a0a0a0" stroke-width="0.65"/>
<text x="289.20" y="484.85" font-size="4.85" text-anchor="end" fill="#383838">0</text>
<line x1="291.70" y1="473.05" x2="293.20" y2="473.05" stroke="#888" stroke-width="0.55"/>
<line x1="364.00" y1="473.05" x2="362.50" y2="473.05" stroke="#888" stroke-width="0.55"/>
<text x="289.20" y="475.30" font-size="4.85" text-anchor="end" fill="#383838">100000</text>
<line x1="291.70" y1="463.50" x2="293.20" y2="463.50" stroke="#888" stroke-width="0.55"/>
<line x1="364.00" y1="463.50" x2="362.50" y2="463.50" stroke="#888" stroke-width="0.55"/>
<text x="289.20" y="465.75" font-size="4.85" text-anchor="end" fill="#383838">200000</text>
<line x1="291.70" y1="453.95" x2="293.20" y2="453.95" stroke="#888" stroke-width="0.55"/>
<line x1="364.00" y1="453.95" x2="362.50" y2="453.95" stroke="#888" stroke-width="0.55"/>
<text x="289.20" y="456.20" font-size="4.85" text-anchor="end" fill="#383838">300000</text>
<line x1="291.70" y1="444.40" x2="293.20" y2="444.40" stroke="#888" stroke-width="0.55"/>
<line x1="364.00" y1="444.40" x2="362.50" y2="444.40" stroke="#888" stroke-width="0.55"/>
<text x="289.20" y="446.65" font-size="4.85" text-anchor="end" fill="#383838">400000</text>
<line x1="291.70" y1="434.85" x2="293.20" y2="434.85" stroke="#888" stroke-width="0.55"/>
<line x1="364.00" y1="434.85" x2="362.50" y2="434.85" stroke="#888" stroke-width="0.55"/>
<text x="289.20" y="437.10" font-size="4.85" text-anchor="end" fill="#383838">500000</text>
<text x="289.20" y="427.55" font-size="4.85" text-anchor="end" fill="#383838">600000</text>
<text x="292.20" y="490.40" font-size="4.85" text-anchor="middle" fill="#383838">0</text>
<line x1="302.03" y1="482.60" x2="302.03" y2="481.10" stroke="#888" stroke-width="0.55"/>
<line x1="302.03" y1="425.30" x2="302.03" y2="426.80" stroke="#888" stroke-width="0.55"/>
<text x="302.53" y="490.40" font-size="4.85" text-anchor="middle" fill="#383838">50</text>
<line x1="312.36" y1="482.60" x2="312.36" y2="481.10" stroke="#888" stroke-width="0.55"/>
<line x1="312.36" y1="425.30" x2="312.36" y2="426.80" stroke="#888" stroke-width="0.55"/>
<text x="312.86" y="490.40" font-size="4.85" text-anchor="middle" fill="#383838">100</text>
<line x1="322.69" y1="482.60" x2="322.69" y2="481.10" stroke="#888" stroke-width="0.55"/>
<line x1="322.69" y1="425.30" x2="322.69" y2="426.80" stroke="#888" stroke-width="0.55"/>
<text x="323.19" y="490.40" font-size="4.85" text-anchor="middle" fill="#383838">150</text>
<line x1="333.01" y1="482.60" x2="333.01" y2="481.10" stroke="#888" stroke-width="0.55"/>
<line x1="333.01" y1="425.30" x2="333.01" y2="426.80" stroke="#888" stroke-width="0.55"/>
<text x="333.51" y="490.40" font-size="4.85" text-anchor="middle" fill="#383838">200</text>
<line x1="343.34" y1="482.60" x2="343.34" y2="481.10" stroke="#888" stroke-width="0.55"/>
<line x1="343.34" y1="425.30" x2="343.34" y2="426.80" stroke="#888" stroke-width="0.55"/>
<text x="343.84" y="490.40" font-size="4.85" text-anchor="middle" fill="#383838">250</text>
<line x1="353.67" y1="482.60" x2="353.67" y2="481.10" stroke="#888" stroke-width="0.55"/>
<line x1="353.67" y1="425.30" x2="353.67" y2="426.80" stroke="#888" stroke-width="0.55"/>
<text x="354.17" y="490.40" font-size="4.85" text-anchor="middle" fill="#383838">300</text>
<text x="364.50" y="490.40" font-size="4.85" text-anchor="middle" fill="#383838">350</text>
<text x="5.80" y="9.50" font-size="9.70" text-anchor="start" fill="#222" stroke="#222" stroke-width="0.15">(A)</text>
<text x="189.90" y="9.60" font-size="9.70" text-anchor="start" fill="#222" stroke="#222" stroke-width="0.15">(B)</text>
<text x="5.60" y="146.60" font-size="9.70" text-anchor="start" fill="#222" stroke="#222" stroke-width="0.15">(C)</text>
<text x="191.30" y="145.30" font-size="9.70" text-anchor="start" fill="#222" stroke="#222" stroke-width="0.15">(D)</text>
<text x="5.30" y="284.00" font-size="9.70" text-anchor="start" fill="#222" stroke="#222" stroke-width="0.15">(E)</text>
<text x="192.60" y="281.60" font-size="9.70" text-anchor="start" fill="#222" stroke="#222" stroke-width="0.15">(F)</text>
<text x="6.30" y="417.30" font-size="9.70" text-anchor="start" fill="#222" stroke="#222" stroke-width="0.15">(G)</text>
<text x="193.90" y="417.30" font-size="9.70" text-anchor="start" fill="#222" stroke="#222" stroke-width="0.15">(H)</text>
<text x="245.50" y="10.45" font-size="4.96" fill="#383838">B cell population (cells per mm<tspan font-size="3.2" dy="-1.7">3</tspan><tspan dy="1.7">)</tspan></text>
<text x="56.50" y="147.35" font-size="4.98" fill="#383838">B cell population  per state (cells per mm<tspan font-size="3.2" dy="-1.7">3</tspan><tspan dy="1.7">)</tspan></text>
<text x="246.80" y="146.95" font-size="4.79" fill="#383838">TH cell population (cells per mm<tspan font-size="3.2" dy="-1.7">3</tspan><tspan dy="1.7">)</tspan></text>
<text x="64.00" y="286.35" font-size="4.88" fill="#383838">TH cell population per state (cells per mm<tspan font-size="3.2" dy="-1.7">3</tspan><tspan dy="1.7">)</tspan></text>
<text x="235.00" y="284.85" font-size="4.84" fill="#383838">TC cell population per state (cells per mm<tspan font-size="3.2" dy="-1.7">3</tspan><tspan dy="1.7">)</tspan></text>
<text x="65.50" y="422.85" font-size="4.98" fill="#383838">MA population per state (cells per mm<tspan font-size="3.2" dy="-1.7">3</tspan><tspan dy="1.7">)</tspan></text>
<text x="23.25" y="61.00" font-size="4.85" text-anchor="middle" fill="#383838" transform="rotate(-90 23.25 61.00)">antigen count per mL</text>
<text x="181.05" y="61.00" font-size="4.85" text-anchor="middle" fill="#383838" transform="rotate(-90 181.05 61.00)">Ab titers (IgM, IgG1, IgG2)</text>
<text x="186.45" y="61.00" font-size="4.85" text-anchor="middle" fill="#383838" transform="rotate(-90 186.45 61.00)">arbitrary scale</text>
<text x="366.85" y="66.00" font-size="4.85" text-anchor="middle" fill="#383838" transform="rotate(-90 366.85 66.00)">memory cells</text>
<text x="24.15" y="204.50" font-size="4.85" text-anchor="middle" fill="#383838" transform="rotate(-90 24.15 204.50)">Active, duplicating</text>
<text x="186.65" y="204.00" font-size="4.85" text-anchor="middle" fill="#383838" transform="rotate(-90 186.65 204.00)">internalized, presenting, anergic</text>
<text x="367.55" y="204.00" font-size="4.85" text-anchor="middle" fill="#383838" transform="rotate(-90 367.55 204.00)">memory cells</text>
<text x="365.75" y="341.00" font-size="4.85" text-anchor="middle" fill="#383838" transform="rotate(-90 365.75 341.00)">Anergic</text>
<text x="204.35" y="474.60" font-size="4.85" text-anchor="middle" fill="#383838" transform="rotate(-90 204.35 474.60)">ng/mL</text>
<text x="129.70" y="12.05" font-size="4.85" text-anchor="end" fill="#383838">Ag</text>
<line x1="132.30" y1="10.30" x2="146.00" y2="10.30" stroke="#404040" stroke-width="0.80"/>
<text x="129.70" y="17.25" font-size="4.85" text-anchor="end" fill="#383838">IgM+IgG</text>
<line x1="132.30" y1="15.50" x2="146.00" y2="15.50" stroke="#f5d090" stroke-width="0.80"/>
<text x="129.70" y="22.45" font-size="4.85" text-anchor="end" fill="#383838">IgM</text>
<line x1="132.30" y1="20.70" x2="146.00" y2="20.70" stroke="#50b898" stroke-width="0.80"/>
<text x="129.70" y="27.65" font-size="4.85" text-anchor="end" fill="#383838">IgG1+IgG2</text>
<line x1="132.30" y1="25.90" x2="146.00" y2="25.90" stroke="#80c0f0" stroke-width="0.80"/>
<text x="129.70" y="32.85" font-size="4.85" text-anchor="end" fill="#383838">IgG1</text>
<line x1="132.30" y1="31.10" x2="146.00" y2="31.10" stroke="#b888f0" stroke-width="0.80"/>
<text x="129.70" y="38.05" font-size="4.85" text-anchor="end" fill="#383838">IgG2</text>
<line x1="132.30" y1="36.30" x2="146.00" y2="36.30" stroke="#f5a8a0" stroke-width="0.80"/>
<text x="324.30" y="22.55" font-size="4.85" text-anchor="end" fill="#383838">Total</text>
<line x1="326.80" y1="20.80" x2="340.00" y2="20.80" stroke="#303030" stroke-width="0.80"/>
<text x="324.30" y="27.80" font-size="4.85" text-anchor="end" fill="#383838">B not Mem</text>
<line x1="326.80" y1="26.05" x2="340.00" y2="26.05" stroke="#5ab8ea" stroke-width="0.80"/>
<text x="324.30" y="33.05" font-size="4.85" text-anchor="end" fill="#383838">B Mem (y2)</text>
<line x1="326.80" y1="31.30" x2="340.00" y2="31.30" stroke="#2aa884" stroke-width="0.80"/>
<text x="324.30" y="38.30" font-size="4.85" text-anchor="end" fill="#383838">B isotype IgM</text>
<line x1="326.80" y1="36.55" x2="340.00" y2="36.55" stroke="#e85040" stroke-width="0.80"/>
<text x="324.30" y="43.55" font-size="4.85" text-anchor="end" fill="#383838">B isotype IgG1</text>
<line x1="326.80" y1="41.80" x2="340.00" y2="41.80" stroke="#a452e8" stroke-width="0.80"/>
<text x="324.30" y="48.80" font-size="4.85" text-anchor="end" fill="#383838">B isotype IgG2</text>
<line x1="326.80" y1="47.05" x2="340.00" y2="47.05" stroke="#eab040" stroke-width="0.80"/>
<text x="143.40" y="159.95" font-size="4.85" text-anchor="end" fill="#383838" textLength="16.38" lengthAdjust="spacingAndGlyphs">ACTIVE</text>
<line x1="146.50" y1="158.20" x2="159.40" y2="158.20" stroke="#a452e8" stroke-width="0.80"/>
<text x="143.40" y="165.05" font-size="4.85" text-anchor="end" fill="#383838" textLength="41.82" lengthAdjust="spacingAndGlyphs">INTERNALIZED (y2)</text>
<line x1="146.50" y1="163.30" x2="159.40" y2="163.30" stroke="#eab040" stroke-width="0.80"/>
<text x="143.40" y="170.15" font-size="4.85" text-anchor="end" fill="#383838" textLength="42.58" lengthAdjust="spacingAndGlyphs">PRESENTING-2 (y2)</text>
<line x1="146.50" y1="168.40" x2="159.40" y2="168.40" stroke="#303030" stroke-width="0.80"/>
<text x="143.40" y="175.25" font-size="4.85" text-anchor="end" fill="#383838" textLength="30.15" lengthAdjust="spacingAndGlyphs">DUPLICATING</text>
<line x1="146.50" y1="173.50" x2="159.40" y2="173.50" stroke="#5ab8ea" stroke-width="0.80"/>
<text x="143.40" y="180.35" font-size="4.85" text-anchor="end" fill="#383838" textLength="29.73" lengthAdjust="spacingAndGlyphs">ANERGIC (y2)</text>
<line x1="146.50" y1="178.60" x2="159.40" y2="178.60" stroke="#eee060" stroke-width="0.80"/>
<text x="321.70" y="159.75" font-size="4.85" text-anchor="end" fill="#383838">Total</text>
<line x1="324.60" y1="158.00" x2="337.60" y2="158.00" stroke="#303030" stroke-width="0.80"/>
<text x="321.70" y="165.15" font-size="4.85" text-anchor="end" fill="#383838">TH not Mem</text>
<line x1="324.60" y1="163.40" x2="337.60" y2="163.40" stroke="#5ab8ea" stroke-width="0.80"/>
<text x="321.70" y="170.55" font-size="4.85" text-anchor="end" fill="#383838">TH Mem (y2)</text>
<line x1="324.60" y1="168.80" x2="337.60" y2="168.80" stroke="#70d0b8" stroke-width="0.80"/>
<text x="162.60" y="297.65" font-size="4.85" text-anchor="end" fill="#383838" textLength="16.38" lengthAdjust="spacingAndGlyphs">ACTIVE</text>
<line x1="165.20" y1="295.90" x2="178.40" y2="295.90" stroke="#a452e8" stroke-width="0.80"/>
<text x="162.60" y="302.85" font-size="4.85" text-anchor="end" fill="#383838" textLength="30.15" lengthAdjust="spacingAndGlyphs">DUPLICATING</text>
<line x1="165.20" y1="301.10" x2="178.40" y2="301.10" stroke="#2aa884" stroke-width="0.80"/>
<text x="162.60" y="308.05" font-size="4.85" text-anchor="end" fill="#383838" textLength="20.16" lengthAdjust="spacingAndGlyphs">RESTING</text>
<line x1="165.20" y1="306.30" x2="178.40" y2="306.30" stroke="#e85040" stroke-width="0.80"/>
<text x="162.60" y="313.25" font-size="4.85" text-anchor="end" fill="#383838" textLength="20.66" lengthAdjust="spacingAndGlyphs">ANERGIC</text>
<line x1="165.20" y1="311.50" x2="178.40" y2="311.50" stroke="#303030" stroke-width="0.80"/>
<text x="324.50" y="297.45" font-size="4.85" text-anchor="end" fill="#383838" textLength="16.38" lengthAdjust="spacingAndGlyphs">ACTIVE</text>
<line x1="326.70" y1="295.70" x2="340.30" y2="295.70" stroke="#a452e8" stroke-width="0.80"/>
<text x="324.50" y="302.65" font-size="4.85" text-anchor="end" fill="#383838" textLength="30.15" lengthAdjust="spacingAndGlyphs">DUPLICATING</text>
<line x1="326.70" y1="300.90" x2="340.30" y2="300.90" stroke="#2aa884" stroke-width="0.80"/>
<text x="324.50" y="307.85" font-size="4.85" text-anchor="end" fill="#383838" textLength="20.16" lengthAdjust="spacingAndGlyphs">RESTING</text>
<line x1="326.70" y1="306.10" x2="340.30" y2="306.10" stroke="#5ab8ea" stroke-width="0.80"/>
<text x="324.50" y="313.05" font-size="4.85" text-anchor="end" fill="#383838" textLength="29.73" lengthAdjust="spacingAndGlyphs">ANERGIC (y2)</text>
<line x1="326.70" y1="311.30" x2="340.30" y2="311.30" stroke="#eab040" stroke-width="0.80"/>
<text x="162.40" y="434.65" font-size="4.85" text-anchor="end" fill="#383838" textLength="32.76" lengthAdjust="spacingAndGlyphs">INTERNALIZED</text>
<line x1="165.40" y1="432.90" x2="178.40" y2="432.90" stroke="#eab040" stroke-width="0.80"/>
<text x="162.40" y="440.05" font-size="4.85" text-anchor="end" fill="#383838" textLength="33.51" lengthAdjust="spacingAndGlyphs">PRESENTING-2</text>
<line x1="165.40" y1="438.30" x2="178.40" y2="438.30" stroke="#2aa884" stroke-width="0.80"/>
<text x="162.40" y="445.45" font-size="4.85" text-anchor="end" fill="#383838">Total</text>
<line x1="165.40" y1="443.70" x2="178.40" y2="443.70" stroke="#303030" stroke-width="0.80"/>
<text x="162.40" y="450.85" font-size="4.85" text-anchor="end" fill="#383838" textLength="16.38" lengthAdjust="spacingAndGlyphs">ACTIVE</text>
<line x1="165.40" y1="449.10" x2="178.40" y2="449.10" stroke="#a452e8" stroke-width="0.80"/>
<text x="246.20" y="424.85" font-size="4.85" text-anchor="end" fill="#383838">IFN-g</text>
<line x1="249.20" y1="423.10" x2="262.40" y2="423.10" stroke="#a452e8" stroke-width="0.80"/>
<text x="246.20" y="430.12" font-size="4.85" text-anchor="end" fill="#383838">IL-4</text>
<line x1="249.20" y1="428.37" x2="262.40" y2="428.37" stroke="#2aa884" stroke-width="0.80"/>
<text x="246.20" y="435.39" font-size="4.85" text-anchor="end" fill="#383838">IL-12</text>
<line x1="249.20" y1="433.64" x2="262.40" y2="433.64" stroke="#5ab8ea" stroke-width="0.80"/>
<text x="246.20" y="440.66" font-size="4.85" text-anchor="end" fill="#383838">TGF-b</text>
<line x1="249.20" y1="438.91" x2="262.40" y2="438.91" stroke="#eab040" stroke-width="0.80"/>
<text x="246.20" y="445.93" font-size="4.85" text-anchor="end" fill="#383838">TNF-a</text>
<line x1="249.20" y1="444.18" x2="262.40" y2="444.18" stroke="#e85040" stroke-width="0.80"/>
<text x="246.20" y="451.20" font-size="4.85" text-anchor="end" fill="#383838">IL-10</text>
<line x1="249.20" y1="449.45" x2="262.40" y2="449.45" stroke="#a0a0a0" stroke-width="0.80"/>
<text x="246.20" y="456.47" font-size="4.85" text-anchor="end" fill="#383838">IL-6</text>
<line x1="249.20" y1="454.72" x2="262.40" y2="454.72" stroke="#c8a0f0" stroke-width="0.80"/>
<text x="246.20" y="461.74" font-size="4.85" text-anchor="end" fill="#383838">IFN-b</text>
<line x1="249.20" y1="459.99" x2="262.40" y2="459.99" stroke="#90d0b0" stroke-width="0.80"/>
<text x="246.20" y="467.01" font-size="4.85" text-anchor="end" fill="#383838">IL-18</text>
<line x1="249.20" y1="465.26" x2="262.40" y2="465.26" stroke="#a8ccf0" stroke-width="0.80"/>
<text x="246.20" y="472.28" font-size="4.85" text-anchor="end" fill="#383838">IL-23</text>
<line x1="249.20" y1="470.53" x2="262.40" y2="470.53" stroke="#f5dca8" stroke-width="0.80"/>
<text x="305.90" y="431.15" font-size="4.85" text-anchor="end" fill="#383838">D</text>
<line x1="308.90" y1="429.40" x2="322.10" y2="429.40" stroke="#5ab8ea" stroke-width="0.80"/>
<text x="305.90" y="436.45" font-size="4.85" text-anchor="end" fill="#383838">IL-2</text>
<line x1="308.90" y1="434.70" x2="322.10" y2="434.70" stroke="#eab040" stroke-width="0.80"/>
<line x1="49.00" y1="116.10" x2="151.30" y2="116.10" stroke="#906060" stroke-width="0.90"/>
<polyline points="56.80,116.20 56.91,115.98 57.06,115.68 57.24,115.32 57.44,114.93 57.66,114.52 57.88,114.13 58.09,113.78 58.30,113.50 58.50,113.27 58.70,113.06 58.91,112.87 59.12,112.71 59.33,112.57 59.55,112.46 59.77,112.37 60.00,112.30 60.22,112.26 60.43,112.24 60.64,112.25 60.86,112.28 61.09,112.33 61.35,112.41 61.65,112.49 62.00,112.60 62.34,112.73 62.62,112.89 62.91,113.08 63.25,113.28 63.68,113.49 64.25,113.70 65.01,113.91 66.00,114.10 67.23,114.29 68.66,114.48 70.25,114.67 72.00,114.86 73.87,115.05 75.84,115.22 77.89,115.37 80.00,115.50 82.00,115.61 83.84,115.70 85.69,115.77 87.67,115.82 89.94,115.87 92.66,115.92 95.96,115.96 100.00,116.00 105.27,116.04 111.83,116.08 119.20,116.11 126.90,116.13 134.44,116.15 141.35,116.17 147.13,116.19 151.30,116.20" fill="none" stroke="#f08878" stroke-width="0.90" stroke-linejoin="round" stroke-opacity="1"/>
<polyline points="49.50,116.20 49.58,116.02 49.69,115.75 49.83,115.44 49.97,115.14 50.13,114.91 50.30,114.80 50.47,114.93 50.65,115.28 50.84,115.70 51.05,116.03 51.27,116.11 51.50,115.80 51.76,115.13 52.05,114.23 52.36,113.09 52.66,111.68 52.95,109.99 53.20,108.00 53.42,105.50 53.61,102.46 53.79,99.14 53.96,95.79 54.12,92.66 54.30,90.00 54.49,87.78 54.68,85.80 54.87,84.03 55.06,82.48 55.23,81.14 55.40,80.00 55.55,79.22 55.68,78.83 55.80,78.66 55.92,78.50 56.05,78.18 56.20,77.50 56.37,76.41 56.54,75.06 56.73,73.53 56.92,71.94 57.11,70.40 57.30,69.00 57.49,67.75 57.68,66.56 57.87,65.41 58.05,64.29 58.23,63.16 58.40,62.00 58.56,60.70 58.71,59.26 58.85,57.82 58.98,56.51 59.12,55.49 59.25,54.90 59.38,54.78 59.51,55.03 59.63,55.57 59.76,56.30 59.88,57.14 60.00,58.00 60.12,58.94 60.23,60.03 60.33,61.23 60.45,62.49 60.57,63.76 60.70,65.00 60.85,66.22 61.01,67.46 61.18,68.72 61.36,69.98 61.53,71.24 61.70,72.50 61.87,73.78 62.04,75.09 62.22,76.41 62.39,77.69 62.55,78.89 62.70,80.00 62.83,80.95 62.94,81.78 63.04,82.53 63.14,83.28 63.26,84.08 63.40,85.00 63.57,86.04 63.74,87.15 63.94,88.31 64.14,89.52 64.37,90.75 64.60,92.00 64.85,93.30 65.11,94.69 65.39,96.09 65.69,97.48 65.99,98.80 66.30,100.00 66.63,101.09 66.99,102.12 67.36,103.08 67.72,103.96 68.07,104.77 68.40,105.50 68.69,106.13 68.94,106.66 69.18,107.11 69.42,107.51 69.69,107.90 70.00,108.30 70.33,108.70 70.65,109.09 71.00,109.45 71.40,109.80 71.89,110.15 72.50,110.50 73.11,110.85 73.68,111.21 74.34,111.56 75.21,111.90 76.42,112.22 78.10,112.50 79.94,112.75 81.77,112.98 83.94,113.18 86.81,113.37 90.71,113.54 96.00,113.70 103.69,113.85 113.71,114.00 124.77,114.13 135.58,114.24 144.85,114.33 151.30,114.40" fill="none" stroke="#48b490" stroke-width="0.90" stroke-linejoin="round" stroke-opacity="1"/>
<polyline points="56.60,116.00 56.59,114.22 56.57,111.74 56.55,108.81 56.55,105.70 56.60,102.68 56.70,100.00 56.88,97.66 57.11,95.44 57.39,93.31 57.70,91.21 58.00,89.13 58.30,87.00 58.59,84.66 58.90,82.11 59.21,79.56 59.52,77.23 59.82,75.33 60.10,74.10 60.35,73.66 60.59,73.87 60.81,74.52 61.03,75.40 61.26,76.30 61.50,77.00 61.75,77.53 62.01,78.05 62.28,78.59 62.55,79.16 62.83,79.79 63.10,80.50 63.37,81.30 63.64,82.19 63.91,83.12 64.19,84.09 64.49,85.06 64.80,86.00 65.13,86.89 65.47,87.76 65.82,88.62 66.19,89.52 66.58,90.47 67.00,91.50 67.44,92.66 67.90,93.94 68.39,95.28 68.90,96.61 69.43,97.87 70.00,99.00 70.61,100.00 71.26,100.92 71.93,101.77 72.62,102.56 73.32,103.30 74.00,104.00 74.65,104.64 75.26,105.21 75.87,105.74 76.52,106.23 77.25,106.71 78.10,107.20 78.99,107.69 79.89,108.17 80.87,108.64 82.00,109.10 83.35,109.56 85.00,110.00 86.97,110.46 89.21,110.93 91.68,111.39 94.33,111.83 97.12,112.20 100.00,112.50 102.91,112.70 105.88,112.83 108.98,112.89 112.31,112.93 115.95,112.96 120.00,113.00 124.93,113.05 130.76,113.10 136.90,113.13 142.77,113.16 147.76,113.18 151.30,113.20" fill="none" stroke="#ac70ec" stroke-width="0.90" stroke-linejoin="round" stroke-opacity="1"/>
<polyline points="56.40,116.00 56.39,114.13 56.36,111.52 56.34,108.44 56.34,105.15 56.38,101.91 56.50,99.00 56.70,96.37 56.97,93.80 57.29,91.29 57.64,88.83 57.98,86.40 58.30,84.00 58.60,81.44 58.91,78.69 59.22,75.98 59.53,73.53 59.82,71.56 60.10,70.30 60.35,69.88 60.57,70.16 60.78,70.92 61.00,71.95 61.23,73.05 61.50,74.00 61.82,74.88 62.17,75.87 62.55,76.92 62.93,77.99 63.28,79.03 63.60,80.00 63.87,80.89 64.10,81.72 64.31,82.53 64.51,83.33 64.74,84.15 65.00,85.00 65.29,85.87 65.59,86.74 65.90,87.63 66.24,88.54 66.60,89.50 67.00,90.50 67.43,91.58 67.89,92.74 68.38,93.94 68.89,95.14 69.43,96.30 70.00,97.40 70.61,98.45 71.26,99.48 71.93,100.48 72.62,101.43 73.32,102.31 74.00,103.10 74.65,103.78 75.26,104.36 75.87,104.87 76.52,105.35 77.25,105.81 78.10,106.30 78.99,106.81 79.89,107.30 80.87,107.79 82.00,108.27 83.35,108.74 85.00,109.20 86.97,109.66 89.21,110.13 91.68,110.59 94.33,111.02 97.12,111.40 100.00,111.70 102.91,111.91 105.88,112.05 108.98,112.13 112.31,112.19 115.95,112.23 120.00,112.30 124.93,112.38 130.76,112.46 136.90,112.54 142.77,112.60 147.76,112.66 151.30,112.70" fill="none" stroke="#78b8f0" stroke-width="0.90" stroke-linejoin="round" stroke-opacity="1"/>
<polyline points="57.00,116.20 57.01,110.87 57.03,103.25 57.04,94.35 57.06,85.17 57.08,76.72 57.10,70.00 57.11,65.09 57.12,61.21 57.13,58.05 57.14,55.33 57.16,52.74 57.20,50.00 57.26,47.21 57.33,44.63 57.42,42.19 57.51,39.81 57.61,37.44 57.70,35.00 57.80,32.42 57.90,29.74 58.00,27.06 58.10,24.48 58.20,22.09 58.30,20.00 58.39,18.20 58.47,16.63 58.56,15.25 58.64,14.04 58.72,12.96 58.80,12.00 58.88,11.15 58.96,10.44 59.04,9.88 59.13,9.44 59.21,9.15 59.30,9.00 59.38,8.96 59.46,9.04 59.54,9.25 59.64,9.63 59.75,10.20 59.90,11.00 60.09,12.03 60.33,13.26 60.58,14.69 60.84,16.30 61.09,18.07 61.30,20.00 61.47,22.15 61.62,24.56 61.76,27.12 61.89,29.78 62.03,32.43 62.20,35.00 62.39,37.50 62.59,40.00 62.80,42.50 63.02,45.00 63.26,47.50 63.50,50.00 63.76,52.50 64.03,55.00 64.31,57.50 64.60,60.00 64.89,62.50 65.20,65.00 65.52,67.61 65.84,70.35 66.18,73.09 66.52,75.70 66.86,78.05 67.20,80.00 67.52,81.42 67.81,82.39 68.11,83.09 68.43,83.72 68.79,84.46 69.20,85.50 69.68,86.90 70.23,88.53 70.81,90.26 71.41,92.00 72.01,93.61 72.60,95.00 73.17,96.14 73.74,97.13 74.31,97.99 74.89,98.79 75.49,99.54 76.10,100.30 76.73,101.06 77.36,101.79 78.01,102.48 78.68,103.13 79.38,103.74 80.10,104.30 80.75,104.79 81.29,105.22 81.86,105.60 82.59,105.96 83.59,106.32 85.00,106.70 86.86,107.12 89.07,107.56 91.56,107.99 94.26,108.41 97.09,108.79 100.00,109.10 102.91,109.34 105.88,109.53 108.98,109.67 112.31,109.79 115.95,109.89 120.00,110.00 124.93,110.11 130.76,110.21 136.90,110.31 142.77,110.39 147.76,110.45 151.30,110.50" fill="none" stroke="#f5d090" stroke-width="1.00" stroke-linejoin="round" stroke-opacity="1"/>
<line x1="49.30" y1="116.30" x2="49.30" y2="11.40" stroke="#303030" stroke-width="1.30"/>
<line x1="53.20" y1="116.30" x2="53.20" y2="37.00" stroke="#787878" stroke-width="1.30"/>
<line x1="57.15" y1="116.30" x2="57.15" y2="37.00" stroke="#505050" stroke-width="1.30"/>
<polyline points="216.70,116.00 218.20,87.60 221.20,87.40 221.45,45.80 226.10,46.30 226.60,26.50 227.70,25.50 228.46,25.74 229.49,26.05 230.72,26.43 232.10,26.86 233.54,27.32 235.00,27.80 236.51,28.28 238.13,28.76 239.83,29.27 241.57,29.85 243.30,30.52 245.00,31.30 246.70,32.25 248.44,33.37 250.19,34.58 251.89,35.80 253.51,36.96 255.00,38.00 256.35,38.88 257.59,39.66 258.75,40.38 259.85,41.10 260.93,41.85 262.00,42.70 263.05,43.65 264.04,44.65 265.00,45.70 265.96,46.77 266.95,47.84 268.00,48.90 269.05,49.90 270.07,50.86 271.12,51.82 272.26,52.84 273.53,53.95 275.00,55.20 276.76,56.68 278.78,58.36 280.94,60.13 283.11,61.90 285.17,63.56 287.00,65.00 288.54,66.20 289.89,67.23 291.12,68.15 292.33,69.01 293.60,69.88 295.00,70.80 296.55,71.77 298.19,72.75 299.88,73.72 301.59,74.70 303.31,75.66 305.00,76.60 306.67,77.53 308.33,78.45 310.00,79.36 311.67,80.26 313.33,81.14 315.00,82.00 316.67,82.84 318.33,83.66 320.00,84.46 321.67,85.25 323.33,86.03 325.00,86.80 326.66,87.55 328.32,88.27 329.98,88.97 331.64,89.69 333.32,90.42 335.00,91.20 336.82,92.08 338.79,93.07 340.77,94.08 342.62,95.02 344.18,95.83 345.30,96.40" fill="none" stroke="#2aa884" stroke-width="1.15" stroke-linejoin="round" stroke-opacity="1"/>
<polyline points="216.70,61.00 216.85,63.36 217.07,66.73 217.30,70.00 217.55,73.10 217.81,76.10 218.00,78.20 220.70,78.20 221.30,94.40 226.00,95.20 226.50,97.00 228.00,93.30 228.72,93.47 229.75,93.70 230.91,94.03 232.00,94.50 233.00,95.14 234.00,95.92 235.00,96.80 236.00,97.70 237.02,98.64 238.06,99.64 239.07,100.67 240.00,101.70 240.82,102.71 241.56,103.72 242.27,104.75 243.00,105.80 243.77,106.93 244.56,108.12 245.32,109.25 246.00,110.20 246.57,110.94 247.06,111.53 247.52,111.98 248.00,112.30 248.50,112.49 249.00,112.54 249.50,112.47 250.00,112.30 250.45,111.95 250.88,111.42 251.36,110.92 252.00,110.60 252.91,110.58 254.00,110.74 255.09,110.93 256.00,111.00 256.69,110.89 257.25,110.67 257.69,110.45 258.00,110.30 258.50,109.55 259.20,109.51 259.90,108.64 260.60,108.48 261.30,108.02 262.00,106.66 262.70,106.34 263.40,107.66 264.10,106.67 264.80,106.57 265.50,107.77 266.20,106.76 266.90,107.27 267.60,106.54 268.30,106.71 269.00,105.76 269.70,106.48 270.40,106.78 271.10,106.15 271.80,106.50 272.50,106.27 273.20,104.96 273.90,105.68 274.60,104.82 275.30,103.69 276.00,102.60 276.70,103.38 277.40,102.05 278.10,101.79 278.80,101.40 279.50,100.49 280.20,100.26 280.90,98.83 281.60,99.01 282.30,97.93 283.00,98.30 283.70,97.74 284.40,95.95 285.10,95.53 285.80,95.19 286.50,96.01 287.20,94.70 287.90,94.66 288.60,93.81 289.30,93.92 290.00,93.49 290.70,93.23 291.40,93.44 292.10,93.23 292.80,93.55 293.50,92.93 294.20,93.09 294.90,92.69 295.60,92.64 296.30,91.80 297.00,90.63 297.70,91.45 298.40,91.22 299.10,90.71 299.80,89.80 300.50,89.83 301.20,88.89 301.90,89.89 302.60,89.35 303.30,88.58 304.00,87.67 304.70,88.35 305.40,87.98 306.10,85.77 306.80,86.35 307.50,85.24 308.20,84.58 308.90,84.85 309.60,85.81 310.30,86.19 311.00,84.98 311.70,86.09 312.40,85.05 313.10,85.81 313.80,84.55 314.50,85.00 315.20,84.65 315.90,83.34 316.60,83.74 317.30,82.26 318.00,81.66 318.70,82.41 319.40,81.39 320.10,81.71 320.80,82.49 321.50,83.37 322.20,82.52 322.90,81.75 323.60,82.42 324.30,80.77 325.00,81.38 325.70,81.40 326.40,81.11 327.10,81.42 327.80,81.38 328.50,81.33 329.20,80.87 329.90,80.29 330.60,79.59 331.30,79.07 332.00,77.21 332.70,76.14 333.40,76.26 334.10,75.81 334.80,76.62 335.50,78.40 336.20,78.31 336.90,78.40 337.60,77.17 338.30,77.38 339.00,77.12 339.70,75.61 340.40,76.09 341.10,75.65 341.80,74.33 342.50,75.17 343.20,75.01 343.90,75.67 344.60,75.53 345.30,76.55" fill="none" stroke="#5ab8ea" stroke-width="1.15" stroke-linejoin="round" stroke-opacity="1"/>
<polyline points="216.60,116.00 221.30,116.00 221.60,109.50 226.30,110.00 227.20,101.00 228.00,100.50 228.91,100.66 230.19,100.88 231.69,101.14 233.26,101.44 234.75,101.76 236.00,102.10 237.01,102.46 237.89,102.86 238.69,103.28 239.44,103.71 240.20,104.16 241.00,104.60 241.82,105.06 242.63,105.56 243.44,106.06 244.26,106.54 245.11,107.00 246.00,107.40 246.94,107.75 247.93,108.05 248.94,108.33 249.96,108.57 250.99,108.79 252.00,109.00 252.99,109.18 253.96,109.31 254.94,109.42 255.93,109.53 256.94,109.65 258.00,109.80 259.07,109.99 260.15,110.20 261.25,110.42 262.41,110.64 263.65,110.84 265.00,111.00 266.46,111.11 268.00,111.17 269.62,111.22 271.33,111.26 273.12,111.31 275.00,111.40 277.00,111.52 279.15,111.65 281.38,111.79 283.63,111.95 285.86,112.12 288.00,112.30 289.67,112.49 290.84,112.70 291.98,112.92 293.57,113.14 296.08,113.37 300.00,113.60 306.15,113.84 314.31,114.11 323.40,114.38 332.32,114.63 339.99,114.85 345.30,115.00" fill="none" stroke="#a452e8" stroke-width="1.15" stroke-linejoin="round" stroke-opacity="1"/>
<polyline points="216.60,116.00 217.42,116.02 218.61,116.04 219.90,116.05 221.00,116.00 221.83,115.87 222.53,115.69 223.21,115.48 224.00,115.30 224.32,115.12 224.31,114.94 225.15,114.79 228.00,114.70 233.67,114.68 241.38,114.72 249.89,114.80 258.00,114.90 264.86,115.05 271.29,115.25 278.58,115.45 288.00,115.60 301.75,115.69 318.52,115.74 334.36,115.78 345.30,115.80" fill="none" stroke="#eab040" stroke-width="1.15" stroke-linejoin="round" stroke-opacity="1"/>
<polyline points="216.60,60.50 216.93,59.93 217.41,59.11 217.96,58.23 218.50,57.50 219.08,56.94 219.72,56.46 220.30,56.07 220.70,55.80 221.30,48.60 225.80,49.80 226.60,43.30 227.50,43.00 228.46,43.57 229.84,44.38 231.41,45.31 232.94,46.23 234.20,47.00 235.14,47.58 235.92,48.06 236.60,48.50 237.27,48.99 238.00,49.60 238.79,50.36 239.59,51.23 240.39,52.15 241.20,53.06 242.00,53.90 242.80,54.69 243.60,55.47 244.40,56.21 245.20,56.89 246.00,57.50 246.78,58.02 247.55,58.47 248.33,58.86 249.14,59.20 250.00,59.50 251.02,59.76 252.17,59.98 253.31,60.16 254.30,60.30 255.00,60.40 255.20,60.13 255.90,60.48 256.60,61.45 257.30,60.47 258.00,60.94 258.70,60.37 259.40,59.59 260.10,59.97 260.80,58.97 261.50,59.36 262.20,58.67 262.90,58.70 263.60,59.37 264.30,60.26 265.00,59.55 265.70,60.10 266.40,61.11 267.10,61.93 267.80,61.67 268.50,61.70 269.20,62.90 269.90,61.79 270.60,63.33 271.30,62.74 272.00,62.76 272.70,62.92 273.40,63.37 274.10,64.19 274.80,63.14 275.50,63.61 276.20,63.45 276.90,62.76 277.60,62.74 278.30,61.74 279.00,61.52 279.70,61.60 280.40,62.24 281.10,61.81 281.80,61.62 282.50,62.04 283.20,61.86 283.90,61.66 284.60,62.45 285.30,62.36 286.00,61.72 286.70,62.29 287.40,62.29 288.10,62.93 288.80,62.85 289.50,62.33 290.20,63.55 290.90,62.39 291.60,62.97 292.30,63.57 293.00,62.67 293.70,63.10 294.40,62.24 295.10,62.98 295.80,62.85 296.50,62.29 297.20,62.53 297.90,61.53 298.60,62.12 299.30,62.11 300.00,62.32 300.70,62.36 301.40,63.07 302.10,63.14 302.80,61.99 303.50,61.58 304.20,59.91 304.90,60.33 305.60,60.02 306.30,60.62 307.00,60.59 307.70,60.08 308.40,60.60 309.10,61.38 309.80,60.70 310.50,61.61 311.20,61.42 311.90,61.58 312.60,61.69 313.30,62.90 314.00,61.93 314.70,61.91 315.40,61.75 316.10,62.03 316.80,60.41 317.50,60.74 318.20,60.94 318.90,61.83 319.60,62.34 320.30,63.10 321.00,62.87 321.70,63.56 322.40,63.57 323.10,64.01 323.80,63.49 324.50,61.67 325.20,61.52 325.90,61.91 326.60,62.43 327.30,63.19 328.00,63.24 328.70,61.79 329.40,59.90 330.10,58.97 330.80,57.79 331.50,57.75 332.20,58.54 332.90,58.68 333.60,59.02 334.30,59.71 335.00,60.45 335.70,60.20 336.40,62.19 337.10,62.61 337.80,63.19 338.50,63.15 339.20,62.13 339.90,61.51 340.60,60.65 341.30,61.45 342.00,60.78 342.70,61.08 343.40,61.64 344.10,61.95 344.80,62.60" fill="none" stroke="#e85040" stroke-width="1.15" stroke-linejoin="round" stroke-opacity="1"/>
<polyline points="221.30,48.60 222.30,41.20 225.80,41.20 226.40,44.00 227.00,25.80 227.70,25.50 228.76,26.13 230.30,27.01 232.04,28.05 233.70,29.15 235.00,30.20 235.88,31.23 236.51,32.30 237.01,33.38 237.47,34.46 238.00,35.50 238.60,36.50 239.20,37.46 239.80,38.42 240.40,39.39 241.00,40.40 241.59,41.47 242.18,42.58 242.76,43.70 243.37,44.78 244.00,45.80 244.69,46.79 245.44,47.78 246.18,48.71 246.89,49.50 247.50,50.10 248.03,50.45 248.50,50.60 248.92,50.62 249.25,50.59 249.50,50.60 249.60,50.53 250.30,48.86 251.00,49.61 251.70,49.56 252.40,50.35 253.10,51.11 253.80,51.00 254.50,51.97 255.20,52.67 255.90,53.65 256.60,53.14 257.30,53.62 258.00,53.18 258.70,54.06 259.40,53.62 260.10,52.36 260.80,53.42 261.50,52.94 262.20,52.22 262.90,52.35 263.60,52.21 264.30,52.73 265.00,54.24 265.70,54.31 266.40,55.22 267.10,55.76 267.80,55.81 268.50,56.82 269.20,57.10 269.90,58.02 270.60,57.80 271.30,58.23 272.00,58.20 272.70,58.53 273.40,58.13 274.10,57.63 274.80,58.51 275.50,58.32 276.20,57.84 276.90,57.38 277.60,56.54 278.30,56.19 279.00,56.12 279.70,55.68 280.40,56.69 281.10,56.11 281.80,56.79 282.50,56.11 283.20,57.02 283.90,56.91 284.60,55.68 285.30,56.09 286.00,57.26 286.70,56.70 287.40,57.63 288.10,56.94 288.80,56.69 289.50,57.83 290.20,58.35 290.90,57.86 291.60,57.85 292.30,58.43 293.00,59.51 293.70,59.13 294.40,57.93 295.10,57.76 295.80,57.15 296.50,56.80 297.20,57.87 297.90,57.09 298.60,57.98 299.30,58.17 300.00,58.10 300.70,59.13 301.40,58.21 302.10,58.86 302.80,57.85 303.50,58.04 304.20,57.40 304.90,57.11 305.60,57.17 306.30,56.29 307.00,56.27 307.70,57.80 308.40,57.15 309.10,57.75 309.80,58.74 310.50,58.66 311.20,58.04 311.90,59.53 312.60,58.36 313.30,58.29 314.00,58.84 314.70,57.92 315.40,57.65 316.10,56.96 316.80,56.68 317.50,57.38 318.20,57.15 318.90,58.37 319.60,58.91 320.30,59.97 321.00,61.58 321.70,61.45 322.40,61.65 323.10,61.49 323.80,59.41 324.50,58.42 325.20,59.22 325.90,59.40 326.60,59.16 327.30,59.59 328.00,60.47 328.70,60.00 329.40,57.58 330.10,57.36 330.80,56.26 331.50,55.45 332.20,55.17 332.90,54.95 333.60,55.30 334.30,57.29 335.00,57.14 335.70,58.97 336.40,59.26 337.10,60.61 337.80,60.19 338.50,59.32 339.20,58.59 339.90,58.98 340.60,57.76 341.30,57.94 342.00,58.69 342.70,59.59 343.40,59.77 344.10,59.84 344.80,61.42" fill="none" stroke="#303030" stroke-width="1.15" stroke-linejoin="round" stroke-opacity="1"/>
<line x1="40.50" y1="254.00" x2="164.80" y2="254.00" stroke="#a8a050" stroke-width="0.70"/>
<polyline points="41.60,254.00 41.90,210.00 42.05,207.18 42.26,203.07 42.54,198.88 42.90,195.80 43.42,194.23 44.06,193.51 44.68,193.24 45.10,193.00 45.40,254.00 46.00,254.00 46.20,195.00 46.33,192.19 46.51,188.10 46.74,183.96 47.00,181.00 47.30,179.69 47.65,179.31 48.02,179.38 48.40,179.40 48.82,179.33 49.29,179.40 49.71,179.52 50.00,179.60 50.30,254.00 50.90,254.00 51.30,168.00 52.00,164.00 52.07,163.89 52.15,163.72 52.27,163.55 52.45,163.42 52.70,163.40 53.04,163.49 53.46,163.66 53.94,163.89 54.46,164.18 55.00,164.50 55.57,164.84 56.17,165.21 56.81,165.64 57.49,166.16 58.20,166.80 58.98,167.60 59.84,168.54 60.72,169.55 61.56,170.59 62.30,171.60 62.93,172.56 63.49,173.51 63.99,174.47 64.49,175.46 65.00,176.50 65.53,177.64 66.06,178.86 66.58,180.09 67.09,181.26 67.60,182.30 68.10,183.20 68.60,184.01 69.09,184.74 69.56,185.40 70.00,186.00 70.43,186.54 70.85,187.02 71.24,187.43 71.56,187.76 71.80,188.00 72.00,188.17 72.70,187.03 73.40,186.76 74.10,187.69 74.80,188.17 75.50,188.87 76.20,188.00 76.90,188.92 77.60,189.90 78.30,189.91 79.00,190.94 79.70,190.22 80.40,190.77 81.10,190.44 81.80,190.78 82.50,190.73 83.20,189.86 83.90,190.02 84.60,189.98 85.30,190.65 86.00,189.96 86.70,189.68 87.40,191.19 88.10,190.96 88.80,192.24 89.50,192.14 90.20,192.45 90.90,194.04 91.60,193.52 92.30,193.89 93.00,195.25 93.70,195.40 94.40,194.85 95.10,195.94 95.80,195.41 96.50,195.47 97.20,194.58 97.90,195.33 98.60,194.83 99.30,195.03 100.00,194.74 100.70,193.69 101.40,193.52 102.10,193.00 102.80,192.75 103.50,192.48 104.20,192.72 104.90,193.13 105.60,192.38 106.30,193.42 107.00,193.11 107.70,193.26 108.40,194.16 109.10,193.98 109.80,194.08 110.50,194.63 111.20,195.26 111.90,194.66 112.60,196.14 113.30,195.06 114.00,196.21 114.70,196.39 115.40,195.15 116.10,195.87 116.80,194.90 117.50,194.89 118.20,194.04 118.90,194.22 119.60,194.64 120.30,195.95 121.00,195.12 121.70,195.96 122.40,196.08 123.10,195.74 123.80,194.44 124.50,193.96 125.20,193.80 125.90,193.98 126.60,193.23 127.30,194.53 128.00,195.17 128.70,195.83 129.40,195.15 130.10,196.62 130.80,195.51 131.50,195.83 132.20,196.11 132.90,196.40 133.60,195.48 134.30,196.12 135.00,195.46 135.70,194.90 136.40,194.48 137.10,194.43 137.80,194.93 138.50,195.86 139.20,197.40 139.90,198.41 140.60,197.57 141.30,197.52 142.00,198.75 142.70,197.96 143.40,197.45 144.10,196.64 144.80,196.45 145.50,196.17 146.20,195.23 146.90,194.78 147.60,193.89 148.30,194.70 149.00,193.17 149.70,193.52 150.40,193.81 151.10,192.82 151.80,193.92 152.50,194.87 153.20,195.33 153.90,196.30 154.60,195.94 155.30,196.94 156.00,197.02 156.70,198.24 157.40,197.41 158.10,197.06 158.80,197.12 159.50,196.52 160.20,196.70 160.90,196.27 161.60,196.72 162.30,197.50 163.00,197.66 163.70,197.92 164.40,198.59" fill="none" stroke="#a452e8" stroke-width="1.15" stroke-linejoin="round" stroke-opacity="1"/>
<polyline points="40.80,254.00 41.10,156.50 41.90,254.00" fill="none" stroke="#404040" stroke-width="1.10" stroke-linejoin="round" stroke-opacity="1"/>
<polyline points="45.30,254.00 45.60,184.90 46.40,254.00" fill="none" stroke="#404040" stroke-width="1.10" stroke-linejoin="round" stroke-opacity="1"/>
<polyline points="50.30,254.00 50.60,181.00 51.30,254.00" fill="none" stroke="#404040" stroke-width="1.10" stroke-linejoin="round" stroke-opacity="1"/>
<polyline points="41.30,254.00 41.80,246.00 42.40,254.00 45.40,254.00 45.90,246.00 46.50,254.00 50.20,254.00 50.70,238.00 51.30,254.00" fill="none" stroke="#5ab8ea" stroke-width="1.00" stroke-linejoin="round" stroke-opacity="1"/>
<polyline points="41.10,254.00 41.70,248.50 42.90,254.00" fill="none" stroke="#eee060" stroke-width="0.90" stroke-linejoin="round" stroke-opacity="1"/>
<polyline points="45.30,254.00 45.90,248.50 47.10,254.00" fill="none" stroke="#eee060" stroke-width="0.90" stroke-linejoin="round" stroke-opacity="1"/>
<polyline points="50.10,254.00 50.70,248.50 51.90,254.00" fill="none" stroke="#eee060" stroke-width="0.90" stroke-linejoin="round" stroke-opacity="1"/>
<polyline points="221.40,254.00 221.68,251.54 222.09,248.08 222.50,245.00 222.94,242.67 223.39,240.73 223.70,239.40 226.50,239.40 226.80,197.20 231.50,196.90 232.00,162.00 232.50,159.40 232.62,159.27 232.77,159.08 232.95,158.86 233.18,158.65 233.46,158.49 233.80,158.40 234.23,158.40 234.73,158.45 235.29,158.55 235.88,158.68 236.46,158.84 237.00,159.00 237.50,159.17 237.98,159.36 238.45,159.57 238.93,159.81 239.44,160.08 240.00,160.40 240.62,160.78 241.30,161.21 242.00,161.68 242.70,162.17 243.38,162.65 244.00,163.10 244.50,163.44 244.89,163.66 245.25,163.87 245.67,164.20 246.22,164.73 247.00,165.60 248.02,166.88 249.22,168.50 250.56,170.34 252.00,172.27 253.49,174.16 255.00,175.90 256.55,177.50 258.19,179.07 259.88,180.60 261.59,182.10 263.31,183.57 265.00,185.00 266.67,186.40 268.33,187.77 270.00,189.10 271.67,190.40 273.33,191.67 275.00,192.90 276.61,194.07 278.15,195.18 279.69,196.25 281.30,197.32 283.04,198.43 285.00,199.60 287.20,200.87 289.60,202.21 292.14,203.59 294.76,204.96 297.40,206.27 300.00,207.50 302.62,208.65 305.31,209.75 308.03,210.80 310.71,211.80 313.28,212.73 315.70,213.60 317.89,214.38 319.90,215.06 321.80,215.68 323.69,216.27 325.66,216.86 327.80,217.50 330.29,218.22 333.11,219.00 336.01,219.79 338.73,220.53 341.05,221.15 342.70,221.60" fill="none" stroke="#80d4c0" stroke-width="1.15" stroke-linejoin="round" stroke-opacity="1"/>
<polyline points="221.40,247.40 221.65,245.19 222.00,242.01 222.40,238.57 222.80,235.60 223.18,233.17 223.57,230.94 223.97,229.01 224.40,227.50 224.90,226.52 225.45,225.99 225.95,225.72 226.30,225.50 226.90,225.50 227.20,187.50 228.80,186.00 231.00,187.60 232.00,175.00 232.70,174.50 232.89,174.75 233.16,175.09 233.47,175.50 233.82,175.96 234.17,176.47 234.50,177.00 234.82,177.51 235.15,178.00 235.49,178.53 235.83,179.17 236.16,179.97 236.50,181.00 236.83,182.27 237.16,183.74 237.48,185.38 237.81,187.15 238.15,189.03 238.50,191.00 238.87,193.14 239.25,195.48 239.64,197.94 240.03,200.41 240.42,202.79 240.80,205.00 241.17,207.00 241.52,208.85 241.87,210.62 242.23,212.37 242.60,214.14 243.00,216.00 243.44,217.96 243.91,219.98 244.40,222.03 244.89,224.07 245.36,226.08 245.80,228.00 246.19,229.85 246.55,231.64 246.89,233.39 247.23,235.11 247.59,236.81 248.00,238.50 248.47,240.23 248.98,242.02 249.51,243.78 250.04,245.45 250.55,246.95 251.00,248.20 251.39,249.18 251.74,249.93 252.06,250.51 252.37,250.97 252.68,251.39 253.00,251.80 253.30,252.20 253.56,252.52 253.81,252.79 254.11,253.02 254.49,253.22 255.00,253.40 255.60,253.56 256.26,253.68 257.00,253.78 257.85,253.84 258.84,253.88 260.00,253.90 261.44,253.89 263.15,253.85 265.00,253.78 266.85,253.70 268.56,253.60 270.00,253.50 270.85,253.41 271.17,253.33 271.34,253.23 271.78,253.11 272.86,252.94 275.00,252.70 278.27,252.37 282.36,251.97 287.11,251.52 292.34,251.05 297.86,250.60 303.50,250.20 309.87,249.83 317.23,249.45 324.88,249.09 332.14,248.77 338.31,248.50 342.70,248.30" fill="none" stroke="#5ab8ea" stroke-width="1.15" stroke-linejoin="round" stroke-opacity="1"/>
<polyline points="221.40,245.30 221.65,242.33 222.00,238.02 222.40,233.57 222.80,230.20 223.18,228.30 223.57,227.21 223.97,226.53 224.40,225.90 224.90,225.27 225.45,224.83 225.95,224.52 226.30,224.30 226.90,224.30 227.20,180.00 228.80,178.40 231.00,179.40 232.00,163.00 232.70,162.20 232.88,162.54 233.12,162.94 233.41,163.46 233.74,164.11 234.11,164.95 234.50,166.00 234.92,167.28 235.38,168.77 235.87,170.44 236.40,172.27 236.94,174.23 237.50,176.30 238.11,178.56 238.77,181.03 239.46,183.64 240.14,186.30 240.76,188.91 241.30,191.40 241.73,193.76 242.07,196.07 242.37,198.33 242.65,200.57 242.95,202.79 243.30,205.00 243.72,207.24 244.17,209.49 244.64,211.72 245.11,213.91 245.57,216.01 246.00,218.00 246.40,219.86 246.79,221.63 247.16,223.31 247.51,224.92 247.86,226.48 248.20,228.00 248.51,229.49 248.79,230.93 249.05,232.33 249.33,233.66 249.64,234.92 250.00,236.10 250.43,237.22 250.91,238.28 251.43,239.27 251.96,240.19 252.49,241.00 253.00,241.70 253.49,242.27 253.96,242.71 254.44,243.05 254.93,243.33 255.44,243.57 256.00,243.80 256.48,244.01 256.85,244.18 257.25,244.31 257.81,244.41 258.69,244.50 260.00,244.60 261.75,244.70 263.81,244.79 266.19,244.87 268.85,244.94 271.79,244.98 275.00,245.00 278.38,244.98 281.94,244.93 285.77,244.86 289.99,244.78 294.69,244.69 300.00,244.60 306.59,244.50 314.50,244.39 322.91,244.27 330.97,244.16 337.85,244.07 342.70,244.00" fill="none" stroke="#303030" stroke-width="1.15" stroke-linejoin="round" stroke-opacity="1"/>
<polyline points="221.50,249.00 221.62,247.36 221.79,245.00 221.99,242.39 222.20,240.00 222.41,237.90 222.64,235.86 222.89,233.89 223.20,232.00 223.58,230.08 224.03,228.16 224.48,226.46 224.90,225.20 225.30,224.52 225.71,224.27 226.06,224.24 226.30,224.20" fill="none" stroke="#5ab8ea" stroke-width="0.90" stroke-linejoin="round" stroke-opacity="1"/>
<line x1="226.95" y1="225.00" x2="226.95" y2="185.50" stroke="#70c8d8" stroke-width="1.00"/>
<polyline points="37.80,391.50 37.96,390.65 38.18,389.47 38.40,388.50 38.59,387.89 38.77,387.50 39.00,387.40 39.30,387.71 39.64,388.32 40.00,389.00 40.34,389.77 40.70,390.60 41.20,391.20 41.97,391.46 42.88,391.49 43.60,391.30 43.96,390.80 44.14,390.08 44.30,389.50 44.48,389.10 44.65,388.84 44.90,388.90 45.20,389.53 45.59,390.49 46.20,391.20 47.28,391.43 48.60,391.41 49.60,391.30 50.01,391.08 50.10,390.76 50.20,390.50 50.39,390.31 50.57,390.18 50.80,390.20 51.02,390.50 51.29,390.95 51.80,391.30 52.82,391.44 54.09,391.48 55.00,391.50" fill="none" stroke="#202020" stroke-width="1.10" stroke-linejoin="round" stroke-opacity="1"/>
<polyline points="38.00,391.40 39.40,391.20 39.80,387.20 40.30,391.30 44.00,391.30 44.40,366.00 44.90,391.30 50.00,391.30 50.45,376.00 50.95,391.30 55.00,391.50" fill="none" stroke="#2aa884" stroke-width="0.90" stroke-linejoin="round" stroke-opacity="1"/>
<line x1="55.00" y1="391.80" x2="184.00" y2="391.80" stroke="#789890" stroke-width="0.80"/>
<polyline points="38.00,376.80 38.26,378.11 38.64,380.06 39.05,381.80 39.40,382.50 39.66,381.76 39.87,380.09 40.07,378.00 40.30,376.00 40.55,374.05 40.82,371.94 41.10,369.93 41.40,368.30 41.72,367.12 42.07,366.24 42.43,365.62 42.80,365.20 43.22,365.06 43.69,365.21 44.11,365.45 44.40,365.60 44.70,365.60 45.00,345.00 45.70,344.70 45.89,344.73 46.16,344.76 46.48,344.81 46.82,344.86 47.17,344.92 47.50,345.00 47.84,345.07 48.21,345.14 48.58,345.22 48.94,345.33 49.25,345.49 49.50,345.70 49.67,346.03 49.77,346.48 49.82,346.98 49.87,347.44 49.92,347.81 50.00,348.00 50.10,347.94 50.19,347.68 50.29,347.32 50.42,346.96 50.58,346.72 50.80,346.70 51.07,346.90 51.39,347.24 51.75,347.69 52.14,348.23 52.56,348.84 53.00,349.50 53.47,350.22 53.99,351.01 54.53,351.88 55.09,352.80 55.65,353.78 56.20,354.80 56.74,355.87 57.29,356.99 57.83,358.17 58.38,359.40 58.94,360.67 59.50,362.00 60.07,363.41 60.65,364.92 61.24,366.48 61.83,368.04 62.41,369.57 63.00,371.00 63.59,372.37 64.18,373.72 64.77,375.03 65.36,376.27 65.93,377.44 66.50,378.50 67.05,379.44 67.59,380.26 68.11,381.01 68.64,381.70 69.16,382.39 69.70,383.10 70.24,383.84 70.79,384.59 71.34,385.33 71.89,386.03 72.44,386.70 73.00,387.30 73.54,387.84 74.05,388.33 74.57,388.78 75.11,389.19 75.72,389.56 76.40,389.90 77.22,390.20 78.17,390.46 79.17,390.69 80.16,390.88 81.06,391.05 81.80,391.20 82.06,391.36 81.83,391.53 81.52,391.67 81.51,391.76 82.21,391.75 84.00,391.60 87.12,391.28 91.29,390.81 96.17,390.25 101.40,389.64 106.62,389.04 111.50,388.50 116.15,388.00 120.87,387.49 125.60,386.99 130.25,386.52 134.74,386.08 139.00,385.70 142.96,385.39 146.67,385.15 150.23,384.94 153.72,384.75 157.25,384.55 160.90,384.30 164.95,383.99 169.37,383.63 173.82,383.26 177.97,382.91 181.47,382.61 184.00,382.40" fill="none" stroke="#e85040" stroke-width="1.15" stroke-linejoin="round" stroke-opacity="1"/>
<polyline points="38.30,391.30 38.55,390.14 38.91,388.49 39.32,386.54 39.70,384.50 40.04,382.16 40.36,379.50 40.71,376.99 41.10,375.10 41.57,374.03 42.11,373.51 42.64,373.28 43.10,373.10 43.50,372.98 43.87,373.03 44.18,373.13 44.40,373.20 44.80,320.50 45.40,319.50 45.88,319.14 46.57,318.72 47.30,318.90 48.07,320.20 48.88,322.11 49.50,323.70 49.81,324.65 49.93,325.29 50.00,325.70 50.80,293.80 51.40,293.30 51.50,293.24 51.64,293.13 51.80,293.02 51.99,292.94 52.19,292.96 52.40,293.10 52.62,293.37 52.87,293.74 53.12,294.19 53.40,294.73 53.69,295.33 54.00,296.00 54.31,296.67 54.63,297.34 54.97,298.09 55.33,298.98 55.74,300.09 56.20,301.50 56.74,303.30 57.36,305.46 58.01,307.84 58.68,310.31 59.32,312.74 59.90,315.00 60.43,317.08 60.93,319.07 61.40,321.03 61.85,322.98 62.28,324.96 62.70,327.00 63.07,329.10 63.40,331.24 63.71,333.41 64.02,335.59 64.38,337.79 64.80,340.00 65.30,342.22 65.84,344.46 66.42,346.72 67.04,348.98 67.67,351.24 68.30,353.50 68.96,355.85 69.66,358.31 70.38,360.78 71.09,363.13 71.77,365.24 72.40,367.00 72.96,368.34 73.46,369.35 73.94,370.12 74.41,370.76 74.93,371.35 75.50,372.00 76.14,372.69 76.81,373.33 77.52,373.93 78.26,374.49 79.02,375.02 79.80,375.50 80.56,375.94 81.29,376.33 82.04,376.68 82.88,377.00 83.85,377.31 85.00,377.60 86.31,377.87 87.74,378.12 89.29,378.34 91.01,378.56 92.90,378.77 95.00,379.00 97.25,379.22 99.61,379.42 102.16,379.62 104.94,379.84 108.04,380.10 111.50,380.40 115.51,380.78 120.06,381.23 124.91,381.71 129.84,382.19 134.61,382.63 139.00,383.00 142.96,383.29 146.67,383.53 150.23,383.73 153.72,383.91 157.25,384.09 160.90,384.30 164.95,384.54 169.37,384.81 173.82,385.08 177.97,385.33 181.47,385.55 184.00,385.70" fill="none" stroke="#a452e8" stroke-width="1.15" stroke-linejoin="round" stroke-opacity="1"/>
<line x1="218.70" y1="341.50" x2="345.50" y2="341.50" stroke="#eab040" stroke-width="0.90"/>
<line x1="218.70" y1="391.30" x2="345.50" y2="391.30" stroke="#2aa884" stroke-width="0.90"/>
<polyline points="219.00,298.10 219.16,300.30 219.39,303.35 219.66,306.99 219.94,310.96 220.20,315.00 220.44,319.25 220.68,323.90 220.91,328.71 221.15,333.48 221.40,338.00 221.64,342.26 221.87,346.41 222.12,350.45 222.39,354.38 222.70,358.20 223.06,362.00 223.45,365.78 223.88,369.41 224.33,372.76 224.80,375.70 225.29,378.23 225.81,380.42 226.35,382.30 226.91,383.88 227.50,385.20 228.17,386.17 228.94,386.79 229.69,387.15 230.34,387.39 230.80,387.60 231.00,387.09 231.70,387.71 232.40,387.61 233.10,387.78 233.80,386.52 234.50,386.45 235.20,386.12 235.90,386.08 236.60,386.77 237.30,385.52 238.00,385.88 238.70,384.87 239.40,384.37 240.10,383.79 240.80,383.53 241.50,382.12 242.20,380.10 242.90,379.56 243.60,378.38 244.30,378.64 245.00,377.56 245.70,376.58 246.40,375.63 247.10,374.52 247.80,373.89 248.50,372.65 249.20,370.77 249.90,370.82 250.60,369.25 251.30,368.75 252.00,367.48 252.70,366.30 253.40,365.25 254.10,364.42 254.80,363.29 255.50,362.03 256.20,362.30 256.90,361.36 257.60,360.79 258.30,359.41 259.00,358.31 259.70,357.78 260.40,355.88 261.10,355.93 261.80,354.66 262.50,353.31 263.20,352.45 263.90,352.08 264.60,350.71 265.30,350.14 266.00,349.48 266.70,348.21 267.40,346.85 268.10,346.55 268.80,345.19 269.50,344.27 270.20,343.29 270.90,342.70 271.60,341.35 272.30,341.51 273.00,341.23 273.70,339.50 274.40,339.32 275.10,338.96 275.80,336.75 276.50,336.25 277.20,336.75 277.90,336.21 278.60,335.32 279.30,333.97 280.00,333.89 280.70,334.17 281.40,333.70 282.10,333.04 282.80,331.52 283.50,332.16 284.20,330.85 284.90,330.85 285.60,329.23 286.30,329.98 287.00,328.66 287.70,328.17 288.40,326.61 289.10,326.63 289.80,325.92 290.50,325.32 291.20,324.34 291.90,324.40 292.60,323.18 293.30,322.56 294.00,321.80 294.70,322.14 295.40,320.63 296.10,320.26 296.80,319.43 297.50,319.85 298.20,319.19 298.90,318.68 299.60,317.37 300.30,317.61 301.00,317.03 301.70,316.19 302.40,315.63 303.10,316.92 303.80,315.03 304.50,314.95 305.20,314.50 305.90,314.68 306.60,313.41 307.30,313.70 308.00,313.14 308.70,313.56 309.40,311.78 310.10,311.97 310.80,311.88 311.50,312.32 312.20,311.19 312.90,310.77 313.60,310.75 314.30,309.77 315.00,308.98 315.70,309.43 316.40,309.79 317.10,309.15 317.80,307.99 318.50,308.37 319.20,308.30 319.90,306.94 320.60,307.13 321.30,306.36 322.00,305.77 322.70,305.44 323.40,304.89 324.10,304.74 324.80,303.82 325.50,304.08 326.20,303.23 326.90,304.08 327.60,303.56 328.30,302.33 329.00,303.45 329.70,302.29 330.40,302.62 331.10,302.59 331.80,302.07 332.50,301.85 333.20,301.95 333.90,301.28 334.60,302.34 335.30,300.83 336.00,301.70 336.70,300.17 337.40,299.82 338.10,299.81 338.80,299.26 339.50,299.60 340.20,300.22 340.90,300.59 341.60,301.55 342.30,301.88 343.00,300.38 343.70,301.29 344.40,300.67 345.10,301.88" fill="none" stroke="#5ab8ea" stroke-width="1.15" stroke-linejoin="round" stroke-opacity="1"/>
<polyline points="219.10,391.30 219.32,386.54 219.63,379.71 219.98,372.10 220.30,365.00 220.58,358.49 220.86,351.98 221.13,345.73 221.40,340.00 221.66,334.87 221.92,330.19 222.19,325.91 222.50,322.00 222.86,318.40 223.26,315.16 223.68,312.33 224.10,310.00 224.51,308.29 224.93,307.12 225.36,306.27 225.80,305.50 226.26,304.80 226.74,304.27 227.23,303.89 227.70,303.60 228.20,303.45 228.72,303.43 229.18,303.48 229.50,303.50 229.60,303.70 230.50,305.09 231.40,305.59 232.30,305.47 233.20,304.94 234.10,304.82 235.00,304.40 235.90,304.21 236.80,304.37 237.70,305.18 238.60,305.91 239.50,306.73 240.40,307.42 241.30,308.82 242.20,310.21 243.10,311.43 244.00,312.73 244.90,313.52 245.80,315.06 246.70,316.28 247.60,317.57 248.50,318.68 249.40,319.55 250.30,320.98 251.20,321.65 252.10,322.61 253.00,323.60 253.90,324.99 254.80,326.11 255.70,326.99 256.60,328.55 257.50,330.04 258.40,331.95 259.30,332.86 260.20,334.41 261.10,335.67 262.00,337.43 262.90,338.24 263.80,339.19 264.70,339.89 265.60,341.47 266.50,342.57 267.40,344.17 268.30,345.01 269.20,346.27 270.10,347.22 271.00,348.13 271.90,348.98 272.80,350.00 273.70,351.12 274.60,351.97 275.50,352.53 276.40,353.63 277.30,354.49 278.20,355.63 279.10,356.46 280.00,357.62 280.90,358.32 281.80,359.36 282.70,360.55 283.60,361.65 284.50,362.46 285.40,363.44 286.30,364.55 287.20,365.47 288.10,365.89 289.00,366.88 289.90,367.78 290.80,368.88 291.70,369.42 292.60,370.38 293.50,371.30 294.40,372.08 295.30,372.50 296.20,373.36 297.10,374.38 298.00,375.00 298.90,375.38 299.80,375.84 300.70,376.60 301.60,377.19 302.50,377.80 303.40,378.33 304.30,378.53 305.20,378.47 306.10,378.64 307.00,378.86 307.90,379.16 308.80,379.51 309.70,380.28 310.60,380.92 311.50,381.67 312.40,382.13 313.30,382.71 314.20,382.70 315.10,383.12 316.00,383.12 316.90,383.93 317.80,384.26 318.70,384.94 319.60,385.08 320.50,384.97 321.40,384.94 322.30,385.36 323.20,385.72 324.10,386.23 325.00,386.25 325.90,386.43 326.80,386.52 327.70,386.99 328.60,387.38 329.50,387.64 330.40,387.71 331.30,387.95 332.20,388.22 333.10,388.39 334.00,388.81 334.90,389.13 335.80,389.20 336.70,389.01 337.60,388.88 338.50,389.14 339.40,389.15 340.30,389.65 341.20,389.95 342.10,390.35 343.00,390.61 343.90,390.66 344.80,390.79" fill="none" stroke="#a452e8" stroke-width="1.15" stroke-linejoin="round" stroke-opacity="1"/>
<line x1="35.30" y1="529.00" x2="183.90" y2="529.00" stroke="#50a888" stroke-width="0.80"/>
<polyline points="35.30,529.00 36.00,525.00 36.90,529.00" fill="none" stroke="#eab040" stroke-width="0.80" stroke-linejoin="round" stroke-opacity="1"/>
<polyline points="41.30,529.00 42.00,525.00 42.90,529.00" fill="none" stroke="#eab040" stroke-width="0.80" stroke-linejoin="round" stroke-opacity="1"/>
<polyline points="47.30,529.00 48.00,525.00 48.90,529.00" fill="none" stroke="#eab040" stroke-width="0.80" stroke-linejoin="round" stroke-opacity="1"/>
<polyline points="35.50,476.50 35.70,490.00 37.40,529.00" fill="none" stroke="#2aa884" stroke-width="0.90" stroke-linejoin="round" stroke-opacity="1"/>
<polyline points="40.60,529.00 41.20,491.00 43.00,529.00" fill="none" stroke="#2aa884" stroke-width="0.90" stroke-linejoin="round" stroke-opacity="1"/>
<polyline points="46.60,529.00 47.60,506.40 49.40,529.00" fill="none" stroke="#2aa884" stroke-width="0.90" stroke-linejoin="round" stroke-opacity="1"/>
<polyline points="35.40,529.00 36.00,500.00 36.80,492.00 37.80,493.50 38.90,491.00 40.00,494.00 40.50,505.00 41.00,528.00 41.60,528.00 42.20,505.00 43.00,493.00 44.00,491.00 44.90,488.50 46.00,490.50 46.60,500.00 47.20,528.00 47.80,528.00 48.40,500.00 49.20,487.00 50.00,488.00 50.80,485.20 52.00,485.00 52.40,489.00 53.50,486.00 54.50,487.00 55.60,483.10 56.50,488.00 57.50,486.00 58.90,496.60 60.50,497.00 62.00,503.00 63.00,510.00 64.30,518.00 65.50,522.00 70.00,522.30 70.50,521.79 71.20,522.72 71.90,522.77 72.60,522.67 73.30,522.40 74.00,523.41 74.70,523.53 75.40,523.17 76.10,523.21 76.80,522.78 77.50,522.29 78.20,522.44 78.90,522.39 79.60,521.38 80.30,522.36 81.00,521.43 81.70,521.38 82.40,521.07 83.10,522.51 83.80,522.11 84.50,522.31 85.20,521.92 85.90,521.03 86.60,521.48 87.30,521.75 88.00,521.17 88.70,522.47 89.40,521.59 90.10,521.27 90.80,522.30 91.50,521.26 92.20,522.50 92.90,521.79 93.60,521.95 94.30,521.65 95.00,521.88 95.70,521.44 96.40,521.23 97.10,522.51 97.80,521.56 98.50,522.41 99.20,521.54 99.90,522.72 100.60,522.61 101.30,522.41 102.00,522.43 102.70,522.16 103.40,522.40 104.10,521.48 104.80,522.04 105.50,522.59 106.20,521.64 106.90,522.76 107.60,522.72 108.30,522.00 109.00,521.94 109.70,522.08 110.40,522.00 111.10,522.94 111.80,522.02 112.50,521.48 113.20,521.59 113.90,522.56 114.60,522.99 115.30,522.24 116.00,522.24 116.70,522.34 117.40,522.65 118.10,521.86 118.80,522.46 119.50,522.38 120.20,522.49 120.90,521.82 121.60,521.80 122.30,522.08 123.00,522.97 123.70,522.08 124.40,522.47 125.10,522.02 125.80,521.71 126.50,521.66 127.20,522.80 127.90,522.75 128.60,522.13 129.30,522.60 130.00,522.59 130.70,522.93 131.40,523.02 132.10,522.17 132.80,523.06 133.50,523.02 134.20,522.45 134.90,522.89 135.60,522.29 136.30,522.11 137.00,521.92 137.70,522.88 138.40,521.78 139.10,521.64 139.80,522.77 140.50,522.72 141.20,522.28 141.90,522.82 142.60,521.62 143.30,521.93 144.00,521.98 144.70,522.18 145.40,521.80 146.10,521.65 146.80,522.06 147.50,522.92 148.20,523.05 148.90,522.69 149.60,522.29 150.30,521.94 151.00,523.02 151.70,522.36 152.40,522.67 153.10,521.60 153.80,521.88 154.50,522.84 155.20,522.77 155.90,522.90 156.60,522.47 157.30,522.20 158.00,522.44 158.70,522.84 159.40,522.01 160.10,522.35 160.80,521.95 161.50,522.70 162.20,521.53 162.90,522.56 163.60,522.96 164.30,521.53 165.00,522.40 165.70,522.47 166.40,522.78 167.10,522.36 167.80,521.85 168.50,522.07 169.20,522.90 169.90,522.81 170.60,521.62 171.30,521.56 172.00,521.54 172.70,521.43 173.40,522.07 174.10,521.59 174.80,522.69 175.50,522.36 176.20,521.54 176.90,522.16 177.60,521.82 178.30,522.07 179.00,521.64 179.70,521.55 180.40,521.56 181.10,521.85 181.80,522.35 182.50,522.10 183.20,521.31 183.90,522.32" fill="none" stroke="#a452e8" stroke-width="1.15" stroke-linejoin="round" stroke-opacity="1"/>
<polyline points="35.40,452.00 35.80,470.00 36.60,529.00" fill="none" stroke="#5ab8ea" stroke-width="0.90" stroke-linejoin="round" stroke-opacity="1"/>
<polyline points="35.60,529.48 36.30,504.72 37.00,496.58 38.00,496.52 39.00,493.38 40.00,496.96 40.50,510.09 41.00,528.18 41.80,527.43 42.30,510.21 43.00,498.00 44.50,494.56 46.00,493.25 46.60,505.73 47.20,527.48 48.00,528.50 48.50,505.01 49.50,492.54 51.00,490.49 52.50,493.71 54.00,489.34 55.60,488.45 57.00,493.05 58.90,496.53 60.00,498.51 61.00,492.63 62.60,481.02 64.30,475.10 65.50,461.90 66.50,462.30 67.00,463.17 67.50,464.59 68.00,467.62 68.50,466.27 69.00,463.93 69.50,463.14 70.00,462.42 70.50,461.93 71.00,463.05 71.50,466.96 72.00,469.53 72.50,466.92 73.00,463.12 73.50,461.24 74.00,461.43 74.50,463.59 75.00,464.56 75.50,464.66 76.00,465.77 76.50,471.11 77.00,475.81 77.50,477.86 78.00,471.65 78.50,470.62 79.00,470.23 79.50,467.35 80.00,464.48 80.50,464.07 81.00,462.90 81.50,459.05 82.00,455.60 82.50,456.21 83.00,458.51 83.50,457.07 84.00,453.26 84.50,453.65 85.00,456.82 85.50,456.85 86.00,454.47 86.50,450.33 87.00,445.15 87.50,445.21 88.00,447.27 88.50,451.40 89.00,455.65 89.50,457.19 90.00,457.25 90.50,456.05 91.00,455.68 91.50,458.88 92.00,463.12 92.50,465.63 93.00,465.66 93.50,462.10 94.00,461.20 94.50,462.48 95.00,463.82 95.50,463.29 96.00,460.91 96.50,460.00 97.00,458.59 97.50,459.35 98.00,460.02 98.50,461.46 99.00,460.47 99.50,455.40 100.00,452.55 100.50,450.82 101.00,454.03 101.50,457.84 102.00,454.80 102.50,455.68 103.00,459.10 103.50,459.33 104.00,461.24 104.50,464.12 105.00,462.19 105.50,454.98 106.00,450.16 106.50,454.45 107.00,461.87 107.50,459.91 108.00,452.21 108.50,450.98 109.00,454.09 109.50,455.73 110.00,458.89 110.50,461.43 111.00,458.18 111.50,453.37 112.00,453.97 112.50,456.21 113.00,457.10 113.50,459.31 114.00,459.05 114.50,456.92 115.00,455.49 115.50,453.40 116.00,454.55 116.50,458.99 117.00,457.26 117.50,454.05 118.00,457.97 118.50,460.70 119.00,457.71 119.50,453.43 120.00,451.32 120.50,452.32 121.00,453.73 121.50,455.40 122.00,458.25 122.50,460.08 123.00,460.83 123.50,460.74 124.00,459.05 124.50,457.57 125.00,457.29 125.50,454.45 126.00,452.88 126.50,455.58 127.00,453.22 127.50,447.75 128.00,446.66 128.50,449.41 129.00,453.04 129.50,454.24 130.00,452.97 130.50,450.51 131.00,449.93 131.50,453.89 132.00,457.16 132.50,457.43 133.00,457.62 133.50,455.89 134.00,455.48 134.50,455.40 135.00,454.53 135.50,454.25 136.00,450.54 136.50,452.19 137.00,457.81 137.50,459.41 138.00,462.01 138.50,463.46 139.00,459.92 139.50,457.00 140.00,456.94 140.50,457.39 141.00,458.08 141.50,455.30 142.00,453.91 142.50,456.51 143.00,456.62 143.50,458.02 144.00,461.23 144.50,460.06 145.00,458.08 145.50,459.11 146.00,459.02 146.50,455.82 147.00,453.90 147.50,456.86 148.00,457.74 148.50,455.64 149.00,456.71 149.50,457.66 150.00,456.34 150.50,453.60 151.00,454.78 151.50,459.21 152.00,458.90 152.50,458.48 153.00,462.77 153.50,462.79 154.00,458.17 154.50,455.47 155.00,453.17 155.50,455.73 156.00,458.19 156.50,456.94 157.00,457.40 157.50,457.99 158.00,459.12 158.50,458.99 159.00,458.11 159.50,457.94 160.00,455.96 160.50,452.12 161.00,452.50 161.50,454.91 162.00,455.46 162.50,457.77 163.00,458.06 163.50,454.04 164.00,450.38 164.50,451.72 165.00,455.85 165.50,456.96 166.00,455.72 166.50,457.03 167.00,455.97 167.50,451.05 168.00,450.35 168.50,451.44 169.00,451.34 169.50,452.36 170.00,451.91 170.50,454.18 171.00,462.61 171.50,466.45 172.00,463.83 172.50,462.85 173.00,463.29 173.50,462.46 174.00,459.20 174.50,453.62 175.00,450.65 175.50,454.15 176.00,460.58 176.50,461.38 177.00,459.59 177.50,459.26 178.00,456.14 178.50,452.19 179.00,449.92 179.50,452.98 180.00,458.53 180.50,459.99 181.00,462.80 181.50,462.95 182.00,458.87 182.50,458.21 183.00,455.34 183.50,451.05" fill="none" stroke="#5ab8ea" stroke-width="0.95" stroke-linejoin="round" stroke-opacity="1"/>
<polyline points="35.50,449.29 36.00,453.45 36.50,459.33 37.00,459.59 37.50,459.47 38.00,460.52 38.50,461.90 39.00,462.09 39.50,457.62 40.00,455.14 40.50,458.83 41.00,460.37 41.50,457.48 42.00,451.82 42.50,450.68 43.00,454.43 43.50,454.29 44.00,451.92 44.50,451.77 45.00,453.76 45.50,454.75 46.00,453.47 46.50,447.91 47.00,443.51 47.50,444.55 48.00,442.92 48.50,441.50 49.00,441.68 49.50,441.15 50.00,441.28 50.50,444.07 51.00,448.39 51.50,447.34 52.00,446.03 52.50,449.15 53.00,450.65 53.50,445.94 54.00,443.44 54.50,444.22 55.00,447.42 55.50,447.30 56.00,445.77 56.50,446.71 57.00,449.54 57.50,450.85 58.00,454.13 58.50,456.85 59.00,460.08 59.50,463.94 60.00,464.13 60.50,462.66 61.00,460.49 61.50,458.85 62.00,459.75 62.50,460.48 63.00,458.99 63.50,460.14 64.00,459.53 64.50,456.67 65.00,457.92 65.50,457.37 66.00,455.08 66.50,451.60 67.00,451.89 67.50,453.04 68.00,458.13 68.50,458.37 69.00,455.79 69.50,455.36 70.00,455.61 70.50,451.69 71.00,450.23 71.50,453.63 72.00,456.00 72.50,456.77 73.00,455.42 73.50,455.57 74.00,457.90 74.50,459.66 75.00,458.39 75.50,455.04 76.00,455.16 76.50,460.33 77.00,465.15 77.50,467.96 78.00,460.45 78.50,459.14 79.00,459.92 79.50,456.89 80.00,455.56 80.50,454.46 81.00,454.07 81.50,451.38 82.00,447.20 82.50,447.29 83.00,449.60 83.50,447.66 84.00,444.00 84.50,445.18 85.00,449.15 85.50,448.64 86.00,446.16 86.50,444.09 87.00,439.17 87.50,437.18 88.00,438.81 88.50,443.92 89.00,448.18 89.50,449.36 90.00,448.91 90.50,446.92 91.00,447.11 91.50,450.23 92.00,453.02 92.50,451.63 93.00,448.57 93.50,447.54 94.00,449.56 94.50,453.29 95.00,455.62 95.50,453.53 96.00,451.17 96.50,451.28 97.00,451.21 97.50,450.91 98.00,450.26 98.50,452.21 99.00,452.66 99.50,448.55 100.00,445.46 100.50,443.73 101.00,446.20 101.50,449.26 102.00,447.53 102.50,449.77 103.00,452.22 103.50,451.51 104.00,453.54 104.50,455.06 105.00,452.90 105.50,447.34 106.00,443.44 106.50,447.16 107.00,453.49 107.50,452.09 108.00,445.08 108.50,443.94 109.00,447.29 109.50,449.47 110.00,452.63 110.50,453.52 111.00,448.68 111.50,443.93 112.00,444.99 112.50,446.94 113.00,448.82 113.50,452.87 114.00,452.84 114.50,450.56 115.00,448.55 115.50,445.17 116.00,446.98 116.50,452.32 117.00,449.68 117.50,444.90 118.00,448.94 118.50,453.70 119.00,450.28 119.50,444.25 120.00,442.46 120.50,443.44 121.00,444.89 121.50,448.47 122.00,452.49 122.50,454.03 123.00,453.82 123.50,451.92 124.00,449.92 124.50,449.52 125.00,449.06 125.50,446.48 126.00,446.00 126.50,448.08 127.00,445.29 127.50,441.40 128.00,440.92 128.50,441.94 129.00,443.79 129.50,444.83 130.00,444.32 130.50,443.00 131.00,442.97 131.50,447.23 132.00,450.71 132.50,450.09 133.00,450.17 133.50,448.67 134.00,448.50 134.50,449.50 135.00,447.89 135.50,446.70 136.00,443.94 136.50,444.46 137.00,448.40 137.50,450.38 138.00,453.62 138.50,455.29 139.00,451.71 139.50,449.85 140.00,451.07 140.50,451.06 141.00,450.45 141.50,448.13 142.00,448.44 142.50,450.42 143.00,448.07 143.50,448.33 144.00,451.31 144.50,449.34 145.00,447.53 145.50,450.81 146.00,451.86 146.50,446.81 147.00,443.94 147.50,448.87 148.00,451.10 148.50,447.52 149.00,446.66 149.50,447.54 150.00,446.87 150.50,444.12 151.00,446.52 151.50,451.85 152.00,449.63 152.50,448.20 153.00,453.15 153.50,453.14 154.00,448.82 154.50,447.67 155.00,446.62 155.50,449.61 156.00,452.48 156.50,450.28 157.00,449.10 157.50,449.62 158.00,450.10 158.50,449.42 159.00,449.92 159.50,450.35 160.00,448.40 160.50,444.79 161.00,444.61 161.50,446.45 162.00,446.95 162.50,448.92 163.00,448.42 163.50,445.24 164.00,444.04 164.50,445.14 165.00,447.42 165.50,448.50 166.00,447.84 166.50,449.52 167.00,448.73 167.50,443.57 168.00,442.13 168.50,443.16 169.00,443.04 169.50,444.21 170.00,444.67 170.50,446.29 171.00,452.75 171.50,456.22 172.00,454.38 172.50,453.68 173.00,454.15 173.50,453.42 174.00,450.50 174.50,445.84 175.00,443.71 175.50,446.58 176.00,452.89 176.50,453.63 177.00,450.17 177.50,449.37 178.00,447.68 178.50,445.51 179.00,443.78 179.50,445.85 180.00,450.32 180.50,451.84 181.00,454.55 181.50,454.45 182.00,450.82 182.50,449.84 183.00,447.92 183.50,445.34" fill="none" stroke="#303030" stroke-width="0.95" stroke-linejoin="round" stroke-opacity="1"/>
<polyline points="229.50,529.20 229.70,529.20 229.90,529.20 230.10,529.20 230.30,529.20 230.50,529.09 230.70,528.76 230.90,528.27 231.10,527.70 231.30,527.13 231.50,526.64 231.70,526.31 231.90,526.20 232.10,526.59 232.30,526.92 232.50,527.22 232.70,527.47 232.90,527.69 233.10,527.89 233.30,528.06 233.50,528.20 233.70,528.33 233.90,528.44 234.10,528.54 234.30,528.63 234.50,528.58 234.70,528.31 234.90,527.85 235.10,527.25 235.30,526.58 235.50,525.94 235.70,525.38 235.90,524.97 236.10,524.76 236.30,525.04 236.50,525.58 236.70,526.04 236.90,526.45 237.10,526.81 237.30,527.11 237.50,527.38 237.70,527.62 237.90,527.82 238.10,528.00 238.30,528.15 238.50,528.29 238.70,528.41 238.90,528.51 239.10,528.60 239.30,528.67 239.50,528.74 239.70,528.80 239.90,528.71 240.10,528.35 240.30,527.76 240.50,527.01 240.70,526.19 240.90,525.38 241.10,524.69 241.30,524.18 241.50,523.92 241.70,524.25 241.90,524.88 242.10,525.44 242.30,525.92 242.50,526.35 242.70,526.71 242.90,527.03 243.10,527.31 243.30,527.56 243.50,527.77 243.70,527.95 243.90,528.11 244.10,528.25 244.30,528.38 244.50,528.48 244.70,528.57 244.90,528.65 245.10,528.73 245.30,528.79 245.50,528.84 245.70,528.89 245.90,528.93 246.10,528.96 246.30,528.99 246.50,529.02 246.70,529.04 246.90,529.06 247.10,529.08 247.30,529.10 247.50,529.11 247.70,529.12 247.90,529.13 248.10,529.14 248.30,529.15 248.50,529.15 248.70,529.16 248.90,529.17 249.10,529.17 249.30,529.17 249.50,529.18 249.70,529.18 249.90,529.18 250.10,529.18 250.30,529.19 250.50,529.19 250.70,529.19 250.90,529.19 251.10,529.19 251.30,529.19 251.50,529.19 251.70,529.19 251.90,529.20 252.10,529.20 252.30,529.20 252.50,529.20 252.70,529.20 252.90,529.20 253.10,529.20 253.30,529.20 253.50,529.20 253.70,529.20 253.90,529.20 254.10,529.20 254.30,529.20 254.50,529.20 254.70,529.20 254.90,529.20 255.10,529.20 255.30,529.20 255.50,529.20 255.70,529.20 255.90,529.20 256.10,529.20 256.30,529.20 256.50,529.20 256.70,529.20 256.90,529.20 257.10,529.20 257.30,529.20 257.50,529.20 257.70,529.20 257.90,529.20 367.40,529.20" fill="none" stroke="#5ab8ea" stroke-width="0.80" stroke-linejoin="round" stroke-opacity="1"/>
<polyline points="229.50,529.20 229.70,529.20 229.90,529.20 230.10,529.20 230.30,529.20 230.50,528.93 230.70,528.17 230.90,527.04 231.10,525.70 231.30,524.36 231.50,523.23 231.70,522.47 231.90,522.20 232.10,523.10 232.30,523.89 232.50,524.57 232.70,525.17 232.90,525.69 233.10,526.14 233.30,526.53 233.50,526.88 233.70,527.18 233.90,527.44 234.10,527.66 234.30,527.86 234.50,527.66 234.70,526.74 234.90,525.21 235.10,523.26 235.30,521.11 235.50,519.01 235.70,517.20 235.90,515.88 236.10,515.21 236.30,516.08 236.50,517.77 236.70,519.24 236.90,520.52 237.10,521.64 237.30,522.62 237.50,523.46 237.70,524.20 237.90,524.85 238.10,525.41 238.30,525.90 238.50,526.32 238.70,526.69 238.90,527.02 239.10,527.30 239.30,527.54 239.50,527.76 239.70,527.94 239.90,527.82 240.10,527.15 240.30,526.01 240.50,524.55 240.70,522.94 240.90,521.36 241.10,520.00 241.30,519.01 241.50,518.51 241.70,519.18 241.90,520.47 242.10,521.59 242.30,522.57 242.50,523.43 242.70,524.17 242.90,524.82 243.10,525.38 243.30,525.87 243.50,526.30 243.70,526.68 243.90,527.00 244.10,527.28 244.30,527.53 244.50,527.75 244.70,527.93 244.90,528.10 245.10,528.24 245.30,528.36 245.50,528.47 245.70,528.56 245.90,528.65 246.10,528.72 246.30,528.78 246.50,528.83 246.70,528.88 246.90,528.92 247.10,528.96 247.30,528.99 247.50,529.02 247.70,529.04 247.90,529.06 248.10,529.08 248.30,529.09 248.50,529.11 248.70,529.12 248.90,529.13 249.10,529.14 249.30,529.15 249.50,529.15 249.70,529.16 249.90,529.16 250.10,529.17 250.30,529.17 250.50,529.18 250.70,529.18 250.90,529.18 251.10,529.18 251.30,529.19 251.50,529.19 251.70,529.19 251.90,529.19 252.10,529.19 252.30,529.19 252.50,529.19 252.70,529.19 252.90,529.20 253.10,529.20 253.30,529.20 253.50,529.20 253.70,529.20 253.90,529.20 254.10,529.20 254.30,529.20 254.50,529.20 254.70,529.20 254.90,529.20 255.10,529.20 255.30,529.20 255.50,529.20 255.70,529.20 255.90,529.20 256.10,529.20 256.30,529.20 256.50,529.20 256.70,529.20 256.90,529.20 257.10,529.20 257.30,529.20 257.50,529.20 257.70,529.20 257.90,529.20 367.40,529.20" fill="none" stroke="#909090" stroke-width="0.85" stroke-linejoin="round" stroke-opacity="1"/>
<polyline points="229.50,529.20 229.70,529.20 229.90,529.20 230.10,529.20 230.30,529.20 230.50,528.69 230.70,527.25 230.90,525.09 231.10,522.55 231.30,520.01 231.50,517.85 231.70,516.41 231.90,515.90 232.10,517.61 232.30,519.11 232.50,520.41 232.70,521.54 232.90,522.53 233.10,523.39 233.30,524.14 233.50,524.79 233.70,525.36 233.90,525.85 234.10,526.28 234.30,526.66 234.50,526.10 234.70,523.83 234.90,520.14 235.10,515.44 235.30,510.28 235.50,505.24 235.70,500.89 235.90,497.72 236.10,496.09 236.30,498.13 236.50,502.14 236.70,505.62 236.90,508.66 237.10,511.31 237.30,513.61 237.50,515.62 237.70,517.37 237.90,518.89 238.10,520.22 238.30,521.38 238.50,522.39 238.70,523.26 238.90,524.03 239.10,524.70 239.30,525.28 239.50,525.78 239.70,526.22 239.90,526.03 240.10,524.69 240.30,522.41 240.50,519.45 240.70,516.18 240.90,512.97 241.10,510.20 241.30,508.20 241.50,507.18 241.70,508.57 241.90,511.23 242.10,513.54 242.30,515.56 242.50,517.32 242.70,518.85 242.90,520.18 243.10,521.34 243.30,522.36 243.50,523.24 243.70,524.01 243.90,524.68 244.10,525.26 244.30,525.77 244.50,526.21 244.70,526.59 244.90,526.93 245.10,527.22 245.30,527.48 245.50,527.70 245.70,527.89 245.90,528.06 246.10,528.21 246.30,528.34 246.50,528.45 246.70,528.54 246.90,528.63 247.10,528.70 247.30,528.77 247.50,528.82 247.70,528.87 247.90,528.91 248.10,528.95 248.30,528.98 248.50,529.01 248.70,529.03 248.90,529.06 249.10,529.07 249.30,529.09 249.50,529.10 249.70,529.12 249.90,529.13 250.10,529.14 250.30,529.15 250.50,529.15 250.70,529.16 250.90,529.16 251.10,529.17 251.30,529.17 251.50,529.18 251.70,529.18 251.90,529.18 252.10,529.18 252.30,529.19 252.50,529.19 252.70,529.19 252.90,529.19 253.10,529.19 253.30,529.19 253.50,529.19 253.70,529.19 253.90,529.20 254.10,529.20 254.30,529.20 254.50,529.20 254.70,529.20 254.90,529.20 255.10,529.20 255.30,529.20 255.50,529.20 255.70,529.20 255.90,529.20 256.10,529.20 256.30,529.20 256.50,529.20 256.70,529.20 256.90,529.20 257.10,529.20 257.30,529.20 257.50,529.20 257.70,529.20 257.90,529.20 367.40,529.20" fill="none" stroke="#f2c060" stroke-width="1.00" stroke-linejoin="round" stroke-opacity="1"/>
<polyline points="229.60,529.20 229.64,526.90 229.69,523.66 229.75,519.64 229.80,515.00 229.85,509.51 229.89,503.18 229.94,496.50 230.00,490.00 230.06,483.59 230.13,477.06 230.21,470.76 230.30,465.00 230.40,459.77 230.51,454.94 230.64,450.63 230.80,447.00 231.01,444.14 231.26,441.96 231.52,440.30 231.80,439.00 232.11,438.15 232.46,437.80 232.78,437.70 233.00,437.60 234.40,437.40 236.20,419.60 239.70,434.60 241.40,420.30 244.40,436.60 245.00,437.40 245.29,437.08 245.72,436.52 246.16,436.51 246.50,437.80 246.70,440.85 246.83,445.18 246.92,450.11 247.00,455.00 247.07,459.69 247.11,464.51 247.15,469.58 247.20,475.00 247.25,481.20 247.30,488.00 247.37,494.55 247.50,500.00 247.70,504.04 247.95,507.16 248.23,509.69 248.50,512.00 248.76,514.04 249.02,515.66 249.30,517.07 249.60,518.50 249.93,519.99 250.27,521.44 250.64,522.79 251.00,524.00 251.37,525.06 251.74,526.00 252.12,526.81 252.50,527.50 252.86,528.05 253.22,528.46 253.59,528.76 254.00,529.00 254.42,529.15 254.84,529.19 255.35,529.19 256.00,529.20 256.95,529.21 258.12,529.21 259.23,529.20 260.00,529.20" fill="none" stroke="#a452e8" stroke-width="1.05" stroke-linejoin="round" stroke-opacity="1"/>
<polyline points="231.50,437.60 247.00,437.60" fill="none" stroke="#a452e8" stroke-width="1.00" stroke-linejoin="round" stroke-opacity="1"/>
<polyline points="234.40,437.00 236.00,421.50 239.50,436.00 241.20,422.00" fill="none" stroke="#c8a0f0" stroke-width="0.70" stroke-linejoin="round" stroke-opacity="1"/>
<polyline points="292.00,482.30 302.50,482.30 364.00,482.30" fill="none" stroke="#5ab8ea" stroke-width="0.90" stroke-linejoin="round" stroke-opacity="1"/>
<polyline points="291.80,482.30 292.20,474.00 292.90,465.50 293.30,464.30 293.80,470.00 294.40,477.20 294.80,460.00 295.40,426.90 296.00,450.00 297.00,475.50 297.50,470.00 298.40,431.10 299.20,455.00 300.00,470.00 300.80,477.50 301.60,480.80 302.50,482.20 303.50,482.30 364.00,482.30" fill="none" stroke="#f0b848" stroke-width="0.95" stroke-linejoin="round" stroke-opacity="1"/>
</svg></body></html>
